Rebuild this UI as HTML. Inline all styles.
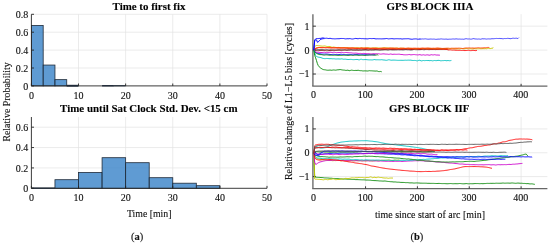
<!DOCTYPE html>
<html><head><meta charset="utf-8"><title>figure</title>
<style>html,body{margin:0;padding:0;background:#fff}svg{display:block}text{font-family:"Liberation Serif","DejaVu Serif",serif;fill:#111;stroke:#111;stroke-width:0.12px}.t{font-size:10px}.b{font-size:11px;font-weight:bold;fill:#000}.g{stroke:#e2e2e2;stroke-width:0.7;fill:none}.ax{stroke:#262626;stroke-width:0.9;fill:none}.ay{stroke:#777;stroke-width:1.5;fill:none}.bar{fill:#3782c8;fill-opacity:0.8;stroke:#1f2a38;stroke-width:0.8}.ln{fill:none;stroke-width:1;stroke-opacity:0.92;stroke-linejoin:round;stroke-linecap:round}</style></head><body>
<svg width="550" height="244" viewBox="0 0 550 244">
<rect width="550" height="244" fill="#fff"/>
<line class="g" x1="78.52" y1="14.3" x2="78.52" y2="85.9"/>
<line class="g" x1="125.64" y1="14.3" x2="125.64" y2="85.9"/>
<line class="g" x1="172.76" y1="14.3" x2="172.76" y2="85.9"/>
<line class="g" x1="219.88" y1="14.3" x2="219.88" y2="85.9"/>
<line class="g" x1="267" y1="14.3" x2="267" y2="85.9"/>
<line class="g" x1="31.4" y1="68" x2="267" y2="68"/>
<line class="g" x1="31.4" y1="50.1" x2="267" y2="50.1"/>
<line class="g" x1="31.4" y1="32.2" x2="267" y2="32.2"/>
<line class="g" x1="31.4" y1="14.3" x2="267" y2="14.3"/>
<rect class="bar" x="31.4" y="25.4" width="11.78" height="60.5"/>
<rect class="bar" x="43.18" y="65.05" width="11.78" height="20.85"/>
<rect class="bar" x="54.96" y="79.64" width="11.78" height="6.27"/>
<path class="ax" d="M31.4 14.3V85.9H267"/>
<line x1="66.74" y1="85.75" x2="78.52" y2="85.75" stroke="#1f2a38" stroke-width="1.9"/>
<line x1="102.08" y1="85.75" x2="113.86" y2="85.75" stroke="#1f2a38" stroke-width="1.4"/>
<line x1="113.86" y1="85.75" x2="125.64" y2="85.75" stroke="#1f2a38" stroke-width="1.1"/>
<path class="ax" d="M31.4 85.9h2.6M31.4 68h2.6M31.4 50.1h2.6M31.4 32.2h2.6M31.4 14.3h2.6M31.4 85.9v-2.4M78.52 85.9v-2.4M125.64 85.9v-2.4M172.76 85.9v-2.4M219.88 85.9v-2.4M267 85.9v-2.4"/>
<text class="t" x="28.2" y="89.5" text-anchor="end">0</text>
<text class="t" x="28.2" y="71.6" text-anchor="end">0.2</text>
<text class="t" x="28.2" y="53.7" text-anchor="end">0.4</text>
<text class="t" x="28.2" y="35.8" text-anchor="end">0.6</text>
<text class="t" x="28.2" y="17.9" text-anchor="end">0.8</text>
<text class="t" x="31.4" y="98.5" text-anchor="middle">0</text>
<text class="t" x="78.52" y="98.5" text-anchor="middle">10</text>
<text class="t" x="125.64" y="98.5" text-anchor="middle">20</text>
<text class="t" x="172.76" y="98.5" text-anchor="middle">30</text>
<text class="t" x="219.88" y="98.5" text-anchor="middle">40</text>
<text class="t" x="267" y="98.5" text-anchor="middle">50</text>
<line class="g" x1="78.52" y1="117" x2="78.52" y2="188.3"/>
<line class="g" x1="125.64" y1="117" x2="125.64" y2="188.3"/>
<line class="g" x1="172.76" y1="117" x2="172.76" y2="188.3"/>
<line class="g" x1="219.88" y1="117" x2="219.88" y2="188.3"/>
<line class="g" x1="267" y1="117" x2="267" y2="188.3"/>
<line class="g" x1="31.4" y1="167.93" x2="267" y2="167.93"/>
<line class="g" x1="31.4" y1="147.56" x2="267" y2="147.56"/>
<line class="g" x1="31.4" y1="127.19" x2="267" y2="127.19"/>
<rect class="bar" x="54.96" y="179.7" width="23.56" height="8.6"/>
<rect class="bar" x="78.52" y="172.5" width="23.56" height="15.8"/>
<rect class="bar" x="102.08" y="157.7" width="23.56" height="30.6"/>
<rect class="bar" x="125.64" y="162.7" width="23.56" height="25.6"/>
<rect class="bar" x="149.2" y="177.7" width="23.56" height="10.6"/>
<rect class="bar" x="172.76" y="183.2" width="23.56" height="5.1"/>
<rect class="bar" x="196.32" y="185.7" width="23.56" height="2.6"/>
<path class="ax" d="M31.4 117V188.3H267"/>
<line x1="31.4" y1="188.15" x2="54.96" y2="188.15" stroke="#1f2a38" stroke-width="1.4"/>
<path class="ax" d="M31.4 188.3h2.6M31.4 167.93h2.6M31.4 147.56h2.6M31.4 127.19h2.6M31.4 188.3v-2.4M78.52 188.3v-2.4M125.64 188.3v-2.4M172.76 188.3v-2.4M219.88 188.3v-2.4M267 188.3v-2.4"/>
<text class="t" x="28.2" y="191.9" text-anchor="end">0</text>
<text class="t" x="28.2" y="171.53" text-anchor="end">0.2</text>
<text class="t" x="28.2" y="151.16" text-anchor="end">0.4</text>
<text class="t" x="28.2" y="130.79" text-anchor="end">0.6</text>
<text class="t" x="31.4" y="200.9" text-anchor="middle">0</text>
<text class="t" x="78.52" y="200.9" text-anchor="middle">10</text>
<text class="t" x="125.64" y="200.9" text-anchor="middle">20</text>
<text class="t" x="172.76" y="200.9" text-anchor="middle">30</text>
<text class="t" x="219.88" y="200.9" text-anchor="middle">40</text>
<text class="t" x="267" y="200.9" text-anchor="middle">50</text>
<text class="b" x="149" y="9.7" text-anchor="middle" textLength="72.8" lengthAdjust="spacingAndGlyphs">Time to first fix</text>
<text class="b" x="148.8" y="112" text-anchor="middle" textLength="177.4" lengthAdjust="spacingAndGlyphs">Time until Sat Clock Std. Dev. &lt;15 cm</text>
<text class="t" transform="translate(9.6 102) rotate(-90)" text-anchor="middle" textLength="79.2" lengthAdjust="spacingAndGlyphs">Relative Probability</text>
<text class="t" x="149.2" y="217" text-anchor="middle" textLength="44.6" lengthAdjust="spacingAndGlyphs">Time [min]</text>
<text class="t" style="font-size:10.5px" x="137" y="239.6" text-anchor="middle">(<tspan font-weight="bold">a</tspan>)</text>
<line class="g" x1="365.55" y1="14.2" x2="365.55" y2="86"/>
<line class="g" x1="417.4" y1="14.2" x2="417.4" y2="86"/>
<line class="g" x1="469.25" y1="14.2" x2="469.25" y2="86"/>
<line class="g" x1="521.1" y1="14.2" x2="521.1" y2="86"/>
<line class="g" x1="312.9" y1="74.03" x2="547.4" y2="74.03"/>
<line class="g" x1="312.9" y1="50.1" x2="547.4" y2="50.1"/>
<line class="g" x1="312.9" y1="26.17" x2="547.4" y2="26.17"/>
<path class="ay" d="M312.9 14.2V86"/>
<path class="ay" style="stroke:#666;stroke-width:1.3" d="M312.2 86.2H547.4"/>
<path class="ax" d="M312.9 74.03h3M312.9 50.1h3M312.9 26.17h3M365.55 86v-2.2M417.4 86v-2.2M469.25 86v-2.2M521.1 86v-2.2"/>
<path class="ln" stroke="#505050" d="M313.8 49.8 314.7 49.73 315.6 49.42 316.5 49.32 317.4 49.46 318.3 49.55 319.2 49.57 320.1 49.66 321 49.65 321.9 49.54 322.8 49.52 323.7 49.64 324.6 49.79 325.5 49.76 326.4 49.6 327.3 49.63 328.2 49.87 329.1 49.98 330 49.84 330.9 49.79 331.8 49.87 332.7 49.88 333.6 49.96 334.5 50.05 335.4 49.98 336.3 49.93 337.2 49.9 338.1 49.83 339 49.8 339.9 49.81 340.8 49.82 341.7 49.83 342.6 49.84 343.5 49.87 344.4 49.91 345.3 49.95 346.2 50.03 347.1 50.01 348 49.92 348.9 49.98 349.8 49.93 350.7 49.82 351.6 49.89 352.5 50.02 353.4 50.02 354.3 49.93 355.2 49.95 356.1 49.92 357 49.77 357.9 49.82 358.8 50.02 359.7 50.14 360.6 50.16 361.5 50.12 362.4 50.07 363.3 50.09 364.2 50.08 365.1 49.97 366 49.96 366.9 49.95 367.8 49.93 368.7 50.01 369.6 49.98 370.5 50.05 371.4 50.16 372.3 49.99 373.2 49.97 374.1 50.06 375 49.93 375.9 49.91 376.8 50.03 377.7 50.07 378.6 50.06 379.5 50.09 380.4 50.15 381.3 50.14 382.2 50.02 383.1 49.87 384 49.74 384.9 49.75 385.8 49.81 386.7 49.82 387.6 50 388.5 50.07 389.4 49.85 390.3 49.75 391.2 49.84 392.1 49.89 393 49.82 393.9 49.78 394.8 49.78 395.7 49.86 396.6 49.9 397.5 49.8 398.4 49.79 399.3 49.88 400.2 49.84 401.1 49.77 402 49.85 402.9 49.91 403.8 49.87 404.7 49.73 405.6 49.56 406.5 49.64 407.4 49.78 408.3 49.76 409.2 49.79 410.1 49.98 411 49.99 411.9 49.88 412.8 49.76 413.7 49.47 414.6 49.4 415.5 49.62 416.4 49.68 417.3 49.7 418.2 49.69 419.1 49.66 420 49.67 420.9 49.56 421.8 49.45 422.7 49.53 423.6 49.68 424.5 49.68 425.4 49.52 426.3 49.46 427.2 49.47 428.1 49.55 429 49.66 429.9 49.57 430.8 49.45 431.7 49.49 432.6 49.48 433.5 49.36 434.4 49.42 435.3 49.58 436.2 49.54 437.1 49.39 438 49.31 438.9 49.24 439.8 49.22 440.7 49.35 441.6 49.39 442.5 49.26 443.4 49.12 444.3 49.15 445.2 49.27 446.1 49.26 447 49.21 447.9 49.27 448 49.36"/>
<path class="ln" stroke="#7a2020" d="M313.8 49.8 314.7 50.1 315.6 50.39 316.5 50.49 317.4 50.64 318.3 50.69 319.2 50.58 320.1 50.43 321 50.4 321.9 50.47 322.8 50.49 323.7 50.47 324.6 50.47 325.5 50.6 326.4 50.74 327.3 50.76 328.2 50.66 329.1 50.54 330 50.47 330.9 50.44 331.8 50.42 332.7 50.34 333.6 50.25 334.5 50.28 335.4 50.36 336.3 50.37 337.2 50.26 338.1 50.17 339 50.14 339.9 50.18 340.8 50.29 341.7 50.27 342.6 50.2 343.5 50.1 344.4 49.93 345.3 49.93 346.2 50.13 347.1 50.2 348 50.02 348.9 49.95 349.8 49.94 350.7 49.8 351.6 49.76 352.5 49.89 353.4 49.95 354.3 50.02 355.2 50.09 356.1 50.03 357 50.04 357.9 50.17 358.8 50.07 359.7 49.8 360.6 49.82 361.5 49.89 362.4 49.73 363.3 49.62 364.2 49.59 365.1 49.56 366 49.63 366.9 49.81 367.8 49.98 368.7 49.97 369.6 49.73 370.5 49.55 371.4 49.61 372.3 49.7 373.2 49.72 374.1 49.62 375 49.53 375.9 49.53 376.8 49.45 377.7 49.51 378.6 49.66 379.5 49.76 380.4 49.68 381.3 49.48 382.2 49.56 383.1 49.66 384 49.62 384.9 49.57 385.8 49.53 386.7 49.6 387.6 49.59 388.5 49.44 389.4 49.41 390.3 49.44 391.2 49.49 392.1 49.58 393 49.63 393.9 49.68 394.8 49.66 395.7 49.52 396.6 49.4 397.5 49.31 398.4 49.28 399.3 49.33 400.2 49.38 401.1 49.35 402 49.38 402.9 49.39 403.8 49.34 404.7 49.4 405.6 49.57 406.5 49.54 407.4 49.34 408.3 49.26 409.2 49.27 410.1 49.35 411 49.48 411.9 49.5 412.8 49.53 413.7 49.49 414.6 49.3 415.5 49.22 416.4 49.29 417.3 49.33 418.2 49.29 419.1 49.33 420 49.4 420.9 49.38 421.8 49.24 422.7 49.04 423.6 49.02 424.5 49.2 425.4 49.18 426.3 49.02 427.2 48.99 428.1 48.94 429 48.91 429.9 48.97 430.8 48.97 431.7 49.01 432.6 49.08 433.5 49.06 434.4 49.06 435.3 49.05 436.2 49 437.1 49.05 438 49.11 438.9 49.08 439.8 49.02 440.7 48.93 441.6 48.92 442.5 48.89 443.4 48.67 444.3 48.63 445.2 48.8 446.1 48.73 447 48.61"/>
<path class="ln" stroke="#0000ff" d="M313.8 49.8 314.7 51.66 315.6 52.49 316.5 52.93 317.4 53.25 318.3 53.51 319.2 53.64 320.1 53.79 321 54.01 321.9 54.11 322.8 54.08 323.7 54.08 324.6 54.07 325.5 54.02 326.4 54.08 327.3 54.14 328.2 54.21 329.1 54.33 330 54.45 330.9 54.63 331.8 54.56 332.7 54.35 333.6 54.34 334.5 54.42 335.4 54.51 336.3 54.6 337.2 54.63 338.1 54.65 339 54.62 339.9 54.45 340.8 54.26 341.7 54.31 342.6 54.44 343.5 54.47 344.4 54.58 345.3 54.73 346.2 54.77 347.1 54.75 348 54.77 348.9 54.76 349.8 54.67 350.7 54.63 351.6 54.62 352.5 54.76 353.4 54.81 354.3 54.6 355.2 54.58 356.1 54.71 357 54.67 357.9 54.66 358.8 54.8 359.7 54.88 360.6 54.9 361.5 54.8 362.4 54.65 363.3 54.74 364.2 54.82 365.1 54.69 366 54.7 366.9 54.87 367.8 54.96 368.7 54.85 369.6 54.79 370.5 54.92 371.4 54.88 372.3 54.79 373.2 54.79 374.1 54.73 375 54.65"/>
<path class="ln" stroke="#0a8a0a" d="M313.8 49.8 314.7 52.13 315.6 52.78 316.5 53.24 317.4 53.85 318.3 54.26 319.2 54.5 320.1 54.63 321 54.61 321.9 54.7 322.8 54.91 323.7 55.07 324.6 55.08 325.5 54.93 326.4 54.9 327.3 54.96 328.2 55.05 329.1 55.2 330 55.2 330.9 55.11 331.8 55.18 332.7 55.34 333.6 55.31 334.5 55.23 335.4 55.27 336.3 55.29 337.2 55.36 338.1 55.39 339 55.32 339.9 55.32 340.8 55.39 341.7 55.43 342.6 55.38 343.5 55.27 344.4 55.23 345.3 55.23 346.2 55.23 347.1 55.3 348 55.35 348.9 55.32 349.8 55.23 350.7 55.15 351.6 55.22 352.5 55.35 353.4 55.32 354.3 55.18 355.2 55.11 356.1 55.04 357 55.03 357.9 55.25 358.8 55.34 359.7 55.22 360.6 55.11 361.5 55.15 362.4 55.29 363.3 55.31 364.2 55.37 365.1 55.44 366 55.29 366.9 55.04 367.8 54.99 368.7 55.01 369.6 54.95 370.5 54.83 371.4 54.82 372.3 54.94 373.2 55.05 374.1 55.1 375 55.13 375.9 55.08 376.8 54.86 377.7 54.8 378 54.97"/>
<path class="ln" stroke="#cc00cc" d="M313.8 49.8 314.7 50.8 315.6 51.63 316.5 52.09 317.4 52.27 318.3 52.28 319.2 52.35 320.1 52.43 321 52.49 321.9 52.52 322.8 52.45 323.7 52.32 324.6 52.24 325.5 52.5 326.4 52.69 327.3 52.61 328.2 52.48 329.1 52.3 330 52.23 330.9 52.27 331.8 52.44 332.7 52.46 333.6 52.28 334.5 52.25 335.4 52.5 336.3 52.73 337.2 52.62 338.1 52.52 339 52.56 339.9 52.54 340.8 52.42 341.7 52.31 342.6 52.48 343.5 52.73 344.4 52.7 345.3 52.51 346.2 52.47 347.1 52.6 348 52.69 348.9 52.75 349.8 52.85 350.7 52.83 351.6 52.9 352.5 53.06 353.4 53.14 354.3 53.18 355.2 53.11 356.1 53.11 357 53.24 357.9 53.37 358.8 53.47 359.7 53.45 360.6 53.43 361.5 53.52 362.4 53.5 363.3 53.4 364.2 53.43 365.1 53.59 366 53.69 366.9 53.7 367.8 53.68 368.7 53.59 369.6 53.69 370.5 53.84 371.4 53.86 372.3 53.78 373.2 53.63 374.1 53.72 375 53.86 375.9 53.78 376.8 53.75 377.7 53.77 378.6 53.76 379.5 53.95 380.4 54.13 381.3 54.12 382.2 53.98 383.1 53.86 384 53.9 384.9 54.03 385.8 54.13 386.7 54.14 387.6 54.2 388.5 54.33 389.4 54.26 390.3 54.02 391.2 54.09 392.1 54.33 393 54.34 393.9 54.23 394.8 54.22 395.7 54.29 396.6 54.31 397.5 54.25 398.4 54.19 399.3 54.19 400.2 54.38 401.1 54.51 402 54.47 402.9 54.64 403.8 54.79 404.7 54.79 405.6 54.82 406.5 54.77 407.4 54.76 408.3 54.61 409.2 54.48 410.1 54.71 411 54.86 411.9 54.74 412.8 54.65 413.7 54.56 414.6 54.58 415.5 54.73 416.4 54.79 417.3 54.9 418.2 54.9 419.1 54.69 420 54.66 420.9 54.93 421.8 55.1 422.7 54.92 423.6 54.81 424.5 55.02 425.4 55.13 426.3 54.93 427.2 54.84 428.1 54.95 429 55.15 429.9 55.17 430.8 54.83 431.7 54.69 432.6 54.92 433.5 54.91 434.4 54.71 435.3 54.84 436.2 55.04 437.1 55.03 438 55.05 438.9 55.11 439.5 55.15"/>
<path class="ln" stroke="#00c0c0" d="M313.8 49.8 314.7 52.88 315.6 55.5 316.5 56.37 317.4 56.81 318.3 57.14 319.2 57.27 320.1 57.45 321 57.65 321.9 57.97 322.8 58.35 323.7 58.53 324.6 58.61 325.5 58.59 326.4 58.47 327.3 58.47 328.2 58.55 329.1 58.65 330 58.69 330.9 58.63 331.8 58.71 332.7 58.81 333.6 58.78 334.5 58.82 335.4 58.96 336.3 59 337.2 58.95 338.1 58.92 339 58.96 339.9 59.05 340.8 58.97 341.7 58.85 342.6 59.01 343.5 59.22 344.4 59.19 345.3 59.15 346.2 59.3 347.1 59.41 348 59.49 348.9 59.51 349.8 59.42 350.7 59.39 351.6 59.44 352.5 59.58 353.4 59.67 354.3 59.63 355.2 59.55 356.1 59.48 357 59.47 357.9 59.56 358.8 59.83 359.7 59.77 360.6 59.31 361.5 59.26 362.4 59.58 363.3 59.66 364.2 59.61 365.1 59.56 366 59.59 366.9 59.68 367.8 59.75 368.7 59.85 369.6 59.89 370.5 59.87 371.4 59.92 372.3 59.93 373.2 59.79 374.1 59.56 375 59.6 375.9 59.82 376.8 59.77 377.7 59.76 378.6 59.79 379.5 59.8 380.4 59.81 381.3 59.7 382.2 59.78 383.1 59.96 384 59.99 384.9 60.08 385.8 60.24 386.7 60.29 387.6 60.07 388.5 59.8 389.4 59.83 390.3 60.05 391.2 60.23 392.1 60.18 393 60.09 393.9 60.12 394.8 60.14 395.7 60.2 396.6 60.28 397.5 60.34 398.4 60.35 399.3 60.34 400.2 60.31 401.1 60.3 402 60.3 402.9 60.33 403.8 60.32 404.7 60.24 405.6 60.21 406.5 60.27 407.4 60.21 408.3 60.15 409.2 60.21 410.1 60.12 411 60.18 411.9 60.38 412.8 60.49 413.7 60.49 414.6 60.44 415.5 60.51 416.4 60.73 417.3 60.85 418.2 60.54 419.1 60.22 420 60.34 420.9 60.75 421.8 60.92 422.7 60.62 423.6 60.49 424.5 60.63 425.4 60.56 426.3 60.49 427.2 60.55 428.1 60.48 429 60.58 429.9 60.7 430.8 60.53 431.7 60.63 432.6 60.83 433.5 60.67 434.4 60.49 435.3 60.59 436.2 60.66 437.1 60.51 438 60.42 438.9 60.4 439.8 60.54 440.7 60.78 441.6 60.73 442.5 60.64 443.4 60.64 444.3 60.5 445.2 60.49 446.1 60.71 447 60.69 447.9 60.52 448.8 60.62 449.7 60.72 450.6 60.6 451 60.53"/>
<path class="ln" stroke="#0a8a0a" d="M313.8 49.8 314.7 55.41 315.6 57.79 316.5 60.61 317.4 63.66 318.3 65.61 319.2 66.81 320.1 67.66 321 68.28 321.9 68.85 322.8 69.36 323.7 69.67 324.6 69.76 325.5 69.86 326.4 70.09 327.3 70.21 328.2 70.23 329.1 70.17 330 70.04 330.9 70.17 331.8 70.27 332.7 70.08 333.6 69.97 334.5 70.06 335.4 70.18 336.3 70.07 337.2 69.87 338.1 69.82 339 69.73 339.9 69.58 340.8 69.62 341.7 69.83 342.6 69.99 343.5 70.09 344.4 70.14 345.3 70.33 346.2 70.43 347.1 70.21 348 70.19 348.9 70.54 349.8 70.67 350.7 70.36 351.6 70.18 352.5 70.31 353.4 70.46 354.3 70.5 355.2 70.43 356.1 70.44 357 70.43 357.9 70.3 358.8 70.37 359.7 70.62 360.6 70.69 361.5 70.7 362.4 70.88 363.3 70.94 364.2 70.89 365.1 70.89 366 70.91 366.9 70.98 367.8 71 368.7 70.83 369.6 70.68 370.5 70.77 371.4 70.81 372.3 70.87 373.2 70.95 374.1 70.96 375 71.08 375.9 71.06 376.8 70.97 377.7 71.19 378.6 71.57 379.5 71.59 380.4 71.46 381.3 71.6 381.5 71.76"/>
<path class="ln" stroke="#c8c800" d="M313.8 49.8 314.7 46.79 315.6 45.69 316.5 45.49 317.4 45.51 318.3 45.69 319.2 45.76 320.1 45.88 321 46.03 321.9 46.09 322.8 46.17 323.7 46.06 324.6 45.96 325.5 46.12 326.4 46.35 327.3 46.5 328.2 46.5 329.1 46.44 330 46.56 330.9 46.87 331.8 47.21 332.7 47.25 333.6 47.07 334.5 47.19 335.4 47.39 336.3 47.48 337.2 47.52 338.1 47.42 339 47.48 339.9 47.75 340.8 47.82 341.7 47.71 342.6 47.67 343.5 47.59 344.4 47.62 345.3 47.77 346.2 47.72 347.1 47.63 348 47.82 348.9 48.07 349.8 48.06 350.7 47.97 351.6 48 352.5 48.09 353.4 48 354.3 47.82 355.2 47.81 356.1 47.89 357 47.96 357.9 47.87 358.8 47.82 359.7 48.04 360.6 48.01 361.5 47.9 362.4 48.07 363.3 48.15 364.2 48.11 365.1 48.1 366 48.05 366.9 47.91 367.8 47.8 368.7 47.91 369.6 48.07 370.5 48.15 371.4 48.17 372.3 47.99 373.2 47.87 374.1 48.02 375 47.98 375.9 47.89 376.8 47.92 377.7 47.97 378.6 48.04 379.5 48.17 380.4 48.31 381.3 48.21 382.2 48.04 383.1 47.92 384 47.81 384.9 47.89 385.8 48.01 386.7 47.96 387.6 47.9 388.5 48.14 389.4 48.34 390.3 48.23 391.2 48.21 392.1 48.22 393 48.13 393.9 48.19 394.8 48.34 395.7 48.26 396.6 48.01 397.5 48.11 398.4 48.47 399.3 48.38 400.2 48.13 401.1 48.26 402 48.41 402.9 48.26 403.8 48.22 404.7 48.48 405.6 48.52 406.5 48.41 407.4 48.43 408.3 48.38 409.2 48.39 410.1 48.37 411 48.29 411.9 48.45 412.8 48.6 413.7 48.63 414.6 48.72 415.5 48.81 416.4 48.82 417.3 48.68 418.2 48.57 419.1 48.56 420 48.47 420.9 48.44 421.8 48.59 422.7 48.72 423.6 48.63 424.5 48.45 425.4 48.6 426.3 48.75 427.2 48.78 428.1 48.79 429 48.67 429.9 48.64 430.8 48.66 431.7 48.61 432.6 48.58 433.5 48.68 434.4 48.8 435.3 48.81 436.2 48.74 437.1 48.77 438 48.86 438.9 48.78 439.8 48.77 440.7 48.84 441.6 48.84 442.5 48.88 443.4 48.97 444.3 49.05 445.2 49 446.1 48.84 447 48.76 447.9 48.88 448.8 48.99 449.7 48.86 450.6 48.69 451.5 48.67 452.4 48.75 453.3 48.71 454.2 48.76 455.1 48.95 456 48.92 456.9 48.79 457.8 48.76 458.7 48.89 459.6 48.98 460.5 48.78 461.4 48.62 462.3 48.62 463.2 48.77 464.1 48.92 465 48.79 465.9 48.6 466.8 48.54 467.7 48.67 468.6 48.78 469.5 48.73 470.4 48.78 471.3 48.91 472.2 48.91 473.1 48.78 474 48.61 474.9 48.68 475.8 48.82 476.7 48.75 477.6 48.76 478.5 48.74 479.4 48.71 480.3 48.75 481.2 48.75 482.1 48.72 483 48.63 483.9 48.69 484.8 48.71 485.7 48.63 486.6 48.75 487.5 48.56 488.4 48.29 489.3 48.53 490.2 48.64 491.1 48.37 492 48.24 492.9 48.13 493 47.88"/>
<path class="ln" stroke="#ff0a0a" d="M313.8 49.8 314.7 48.85 315.6 48.44 316.5 48.3 317.4 48.09 318.3 47.67 319.2 47.47 320.1 47.6 321 47.74 321.9 47.73 322.8 47.61 323.7 47.56 324.6 47.7 325.5 47.81 326.4 47.72 327.3 47.72 328.2 47.83 329.1 47.78 330 47.78 330.9 47.92 331.8 47.9 332.7 47.81 333.6 47.86 334.5 47.94 335.4 47.93 336.3 47.97 337.2 48.07 338.1 48 339 47.85 339.9 47.88 340.8 47.98 341.7 48.07 342.6 48.18 343.5 48.2 344.4 48.08 345.3 48.04 346.2 48.11 347.1 48.22 348 48.34 348.9 48.34 349.8 48.32 350.7 48.35 351.6 48.29 352.5 48.28 353.4 48.36 354.3 48.48 355.2 48.57 356.1 48.58 357 48.54 357.9 48.5 358.8 48.51 359.7 48.56 360.6 48.59 361.5 48.54 362.4 48.54 363.3 48.62 364.2 48.63 365.1 48.56 366 48.53 366.9 48.49 367.8 48.53 368.7 48.68 369.6 48.66 370.5 48.51 371.4 48.54 372.3 48.64 373.2 48.6 374.1 48.61 375 48.72 375.9 48.68 376.8 48.66 377.7 48.69 378.6 48.66 379.5 48.68 380.4 48.75 381.3 48.75 382.2 48.73 383.1 48.79 384 48.87 384.9 48.89 385.8 48.8 386.7 48.68 387.6 48.63 388.5 48.63 389.4 48.69 390.3 48.78 391.2 48.82 392.1 48.76 393 48.73 393.9 48.79 394.8 48.78 395.7 48.83 396.6 48.95 397.5 48.9 398.4 48.76 399.3 48.79 400.2 48.92 401.1 48.94 402 48.91 402.9 48.8 403.8 48.65 404.7 48.63 405.6 48.65 406.5 48.68 407.4 48.77 408.3 48.89 409.2 48.96 410.1 48.95 411 48.87 411.9 48.87 412.8 48.94 413.7 48.85 414.6 48.72 415.5 48.8 416.4 48.86 417.3 48.82 418.2 48.92 419.1 49.01 420 48.93 420.9 48.88 421.8 48.87 422.7 48.82 423.6 48.81 424.5 48.83 425.4 48.85 426.3 48.92 427.2 49.01 428.1 49.05 429 49.01 429.9 48.94 430.8 49 431.7 49.12 432.6 49.11 433.5 49.05 434.4 49.07 435.3 49.11 436.2 49.09 437.1 49.13 438 49.16 438.9 49.05 439.8 49.01 440.7 49.15 441.6 49.19 442.5 49.19 443.4 49.36 444.3 49.45 445.2 49.41 446.1 49.4 447 49.54 447.9 49.8 448.8 49.92 449.7 49.88 450.6 49.85 451.5 49.98 452.4 50.1 453.3 50.06 454.2 50.05 455.1 50.18 456 50.25 456.9 50.21 457.8 50.28 458.7 50.35 459.6 50.35 460.5 50.38 461.4 50.47 462.3 50.42 463.2 50.39 464.1 50.53 465 50.57 465.9 50.51 466.8 50.46 467.7 50.37 468.6 50.3 469.5 50.44 470.4 50.61 471.3 50.6 472.2 50.44 473.1 50.31 474 50.38 474.9 50.56 475.8 50.61 476.5 50.44"/>
<path class="ln" stroke="#ff3c00" d="M313.8 49.8 314.7 48.65 315.6 48.27 316.5 47.87 317.4 47.59 318.3 47.61 319.2 47.66 320.1 47.59 321 47.51 321.9 47.57 322.8 47.69 323.7 47.65 324.6 47.56 325.5 47.6 326.4 47.62 327.3 47.51 328.2 47.53 329.1 47.65 330 47.69 330.9 47.74 331.8 47.79 332.7 47.79 333.6 47.71 334.5 47.68 335.4 47.64 336.3 47.63 337.2 47.72 338.1 47.75 339 47.85 339.9 47.95 340.8 47.91 341.7 47.8 342.6 47.66 343.5 47.62 344.4 47.76 345.3 47.9 346.2 47.96 347.1 47.93 348 47.9 348.9 47.9 349.8 47.91 350.7 47.9 351.6 47.83 352.5 47.76 353.4 47.82 354.3 47.99 355.2 48.1 356.1 48.03 357 47.99 357.9 48.12 358.8 48.17 359.7 48.12 360.6 47.9 361.5 47.73 362.4 47.84 363.3 47.98 364.2 48 365.1 47.94 366 47.9 366.9 47.96 367.8 48.02 368.7 48.09 369.6 48.21 370.5 48.27 371.4 48.21 372.3 48.14 373.2 48.17 374.1 48.17 375 48.14 375.9 48.19 376.8 48.23 377.7 48.33 378.6 48.44 379.5 48.32 380.4 48.17 381.3 48.19 382.2 48.15 383.1 48.09 384 48.07 384.9 48.06 385.8 48.1 386.7 48.16 387.6 48.24 388.5 48.13 389.4 47.93 390.3 47.94 391.2 48.02 392.1 48.05 393 48.1 393.9 48.16 394.8 48.13 395.7 48.1 396.6 48.21 397.5 48.27 398.4 48.27 399.3 48.3 400.2 48.24 401.1 48.14 402 48.13 402.9 48.19 403.8 48.24 404.7 48.26 405.6 48.32 406.5 48.28 407.4 48.11 408.3 48.05 409.2 48.16 410.1 48.26 411 48.31 411.9 48.31 412.8 48.23 413.7 48.16 414.6 48.16 415.5 48.18 416.4 48.24 417.3 48.26 418.2 48.17 419.1 48.25 420 48.36 420.9 48.22 421.8 48.08 422.7 48.03 423.6 48.08 424.5 48.19 425.4 48.16 426.3 48.09 427.2 48 428.1 47.97 429 48.12 429.9 48.18 430.8 48.23 431.7 48.3 432.6 48.25 433.5 48.21 434.4 48.27 435.3 48.25 436.2 48.12 437.1 48.01 438 48 438.9 48.14 439.8 48.23 440.7 48.27 441.6 48.38 442.5 48.44 443.4 48.41 444.3 48.37 445.2 48.33 446.1 48.25 447 48.22 447.9 48.21 448.8 48.24 449.7 48.38 450.6 48.35 451.5 48.23 452.4 48.24 453.3 48.25 454.2 48.25 455.1 48.24 456 48.2 456.9 48.22 457.8 48.22 458.7 48.15 459.6 48.18 460.5 48.26 461.4 48.34 462.3 48.48 463.2 48.44 464.1 48.23 465 48.1 465.9 47.99 466.8 47.99 467.7 48.01 468.6 47.94 469.5 47.92 470.4 48.04 471.3 48.07 472.2 48 473.1 48.04 474 48.15 474.9 48.11 475.8 48 476.7 47.96 477.6 47.82 478.5 47.75 479.4 47.88 480.3 47.99 481.2 47.96 482.1 47.94 483 47.94 483.9 47.81 484.8 47.76 485.7 47.79 486.6 47.66 487.5 47.46 488.4 47.43 489 47.55"/>
<path class="ln" stroke="#0000ff" d="M313.8 49.8 314.7 40.85 315.6 39.76 316.5 39.8 317.4 42.29 318.3 41.9 319.2 40.81 320.1 39.87 321 39.21 321.9 38.94 322.8 38.74 323.7 38.63 324 38.64"/>
<path class="ln" stroke="#0000ff" d="M313.8 49.8 314.7 39.99 315.6 38.9 316.5 38.49 317.4 38.58 318.3 38.57 319.2 38.44 320.1 38.42 321 38.32 321.9 38.05 322.8 37.91 323.7 38.03 324.6 38.26 325.5 38.32 326.4 38.21 327.3 38.33 328.2 38.54 329.1 38.45 330 38.32 330.9 38.45 331.8 38.69 332.7 38.76 333.6 38.77 334.5 38.83 335.4 38.83 336.3 38.78 337.2 38.73 338.1 38.73 339 38.74 339.9 38.63 340.8 38.49 341.7 38.48 342.6 38.51 343.5 38.51 344.4 38.67 345.3 38.87 346.2 38.83 347.1 38.71 348 38.75 348.9 38.74 349.8 38.6 350.7 38.71 351.6 38.95 352.5 38.99 353.4 38.88 354.3 38.67 355.2 38.44 356.1 38.48 357 38.64 357.9 38.73 358.8 38.61 359.7 38.41 360.6 38.5 361.5 38.64 362.4 38.6 363.3 38.64 364.2 38.75 365.1 38.76 366 38.77 366.9 38.85 367.8 38.85 368.7 38.68 369.6 38.53 370.5 38.54 371.4 38.62 372.3 38.6 373.2 38.5 374.1 38.54 375 38.73 375.9 38.89 376.8 38.85 377.7 38.79 378.6 38.83 379.5 38.82 380.4 38.83 381.3 38.89 382.2 38.85 383.1 38.82 384 38.8 384.9 38.73 385.8 38.61 386.7 38.5 387.6 38.68 388.5 38.89 389.4 38.81 390.3 38.72 391.2 38.66 392.1 38.66 393 38.77 393.9 38.86 394.8 38.85 395.7 38.74 396.6 38.72 397.5 38.72 398.4 38.77 399.3 38.84 400.2 38.74 401.1 38.83 402 39.05 402.9 38.94 403.8 38.82 404.7 38.81 405.6 38.77 406.5 38.76 407.4 38.72 408.3 38.71 409.2 38.86 410.1 39.04 411 39.14 411.9 39.24 412.8 39.17 413.7 38.97 414.6 38.93 415.5 38.89 416.4 38.93 417.3 39.15 418.2 39.21 419.1 39.1 420 39.07"/>
<path class="ln" stroke="#3a3aff" d="M420 39 420.9 39.09 421.8 39.02 422.7 38.95 423.6 39 424.5 38.91 425.4 38.83 426.3 38.97 427.2 39.13 428.1 39.2 429 39.18 429.9 39.08 430.8 39.03 431.7 39.09 432.6 39.15 433.5 39.08 434.4 39.11 435.3 39.3 436.2 39.33 437.1 39.23 438 39.13 438.9 39.12 439.8 39.11 440.7 38.95 441.6 38.93 442.5 39.07 443.4 39.13 444.3 39.19 445.2 39.15 446.1 39.06 447 39.21 447.9 39.3 448.8 39.21 449.7 39.16 450.6 39.18 451.5 39.14 452.4 39.01 453.3 38.96 454.2 39.08 455.1 39.02 456 38.85 456.9 38.93 457.8 39.08 458.7 39.12 459.6 39.05 460.5 39.13 461.4 39.18 462.3 39.14 463.2 39.25 464.1 39.18 465 38.93 465.9 38.72 466.8 38.76 467.7 38.99 468.6 38.97 469.5 38.95 470.4 39.13 471.3 39.14 472.2 38.94 473.1 38.66 474 38.67 474.9 38.94 475.8 38.98 476.7 39.02 477.6 39.12 478.5 39 479.4 39.06 480.3 39.23 481.2 39.07 482.1 38.79 483 38.8 483.9 38.88 484.8 38.82 485.7 38.96 486.6 39.07 487.5 38.95 488.4 38.9 489.3 38.93 490.2 38.97 491.1 38.83 492 38.69 492.9 38.73 493.8 38.71 494.7 38.6 495.6 38.53 496.5 38.43 497.4 38.5 498.3 38.54 499.2 38.44 500.1 38.52 501 38.57 501.9 38.59 502.8 38.75 503.7 38.69 504.6 38.51 505.5 38.56 506.4 38.53 507.3 38.36 508.2 38.38 509.1 38.47 510 38.61 510.9 38.68 511.8 38.44 512.7 38.24 513.6 38.22 514.5 38.36 515.4 38.29 516.3 38.16 517.2 38.46 518.1 38.44 518.6 37.89"/>
<text class="t" x="309.6" y="77.43" text-anchor="end">−1</text>
<text class="t" x="309.6" y="53.5" text-anchor="end">0</text>
<text class="t" x="309.6" y="29.57" text-anchor="end">1</text>
<text class="t" x="313.4" y="98.3" text-anchor="middle">0</text>
<text class="t" x="365.25" y="98.3" text-anchor="middle">100</text>
<text class="t" x="417.1" y="98.3" text-anchor="middle">200</text>
<text class="t" x="468.95" y="98.3" text-anchor="middle">300</text>
<text class="t" x="520.8" y="98.3" text-anchor="middle">400</text>
<line class="g" x1="365.55" y1="117" x2="365.55" y2="188.5"/>
<line class="g" x1="417.4" y1="117" x2="417.4" y2="188.5"/>
<line class="g" x1="469.25" y1="117" x2="469.25" y2="188.5"/>
<line class="g" x1="521.1" y1="117" x2="521.1" y2="188.5"/>
<line class="g" x1="312.9" y1="176.58" x2="547.4" y2="176.58"/>
<line class="g" x1="312.9" y1="152.75" x2="547.4" y2="152.75"/>
<line class="g" x1="312.9" y1="128.92" x2="547.4" y2="128.92"/>
<path class="ay" d="M312.9 117V188.5"/>
<path class="ay" style="stroke:#666;stroke-width:1.3" d="M312.2 188.7H547.4"/>
<path class="ax" d="M312.9 176.58h3M312.9 152.75h3M312.9 128.92h3M365.55 188.5v-2.2M417.4 188.5v-2.2M469.25 188.5v-2.2M521.1 188.5v-2.2"/>
<path class="ln" stroke="#0a8a0a" d="M313.8 153 314.7 176.86 315.6 177.13 316.5 177.25 317.4 177.3 318.3 177.36 319.2 177.39 320.1 177.48 321 177.56 321.9 177.57 322.8 177.6 323.7 177.76 324.6 177.9 325.5 177.91 326.4 177.95 327.3 178.01 328.2 178.05 329.1 178.15 330 178.24 330.9 178.21 331.8 178.25 332.7 178.41 333.6 178.47 334.5 178.48 335.4 178.51 336.3 178.5 337.2 178.53 338.1 178.64 339 178.77 339.9 178.89 340.8 178.94 341.7 178.94 342.6 179.01 343.5 179.05 344.4 179.03 345.3 179.04 346.2 179.08 347.1 179.14 348 179.18 348.9 179.2 349.8 179.25 350.7 179.33 351.6 179.4 352.5 179.45 353.4 179.46 354.3 179.5 355.2 179.59 356.1 179.61 357 179.6 357.9 179.65 358.8 179.67 359.7 179.71 360.6 179.75 361.5 179.81 362.4 179.83 363.3 179.83 364.2 179.89 365.1 179.93 366 180.04 366.9 180.08 367.8 180.05 368.7 180.12 369.6 180.17 370.5 180.22 371.4 180.38 372.3 180.48 373.2 180.53 374.1 180.59 375 180.59 375.9 180.63 376.8 180.71 377.7 180.74 378.6 180.84 379.5 180.94 380.4 180.96 381.3 181 382.2 181.07 383.1 181.11 384 181.03 384.9 180.99 385.8 181.12 386.7 181.28 387.6 181.42 388.5 181.49 389.4 181.56 390.3 181.68 391.2 181.72 392.1 181.76 393 181.91 393.9 181.98 394.8 181.94 395.7 181.98 396.6 182.12 397.5 182.2 398.4 182.2 399.3 182.24 400.2 182.37 401.1 182.41 402 182.42 402.9 182.46 403.8 182.46 404.7 182.53 405.6 182.63 406.5 182.64 407.4 182.62 408.3 182.69 409.2 182.83 410.1 182.89 411 182.88 411.9 182.87 412.8 182.95 413.7 183.05 414.6 183.05 415.5 182.98 416.4 182.93 417.3 182.95 418.2 182.99 419.1 183.03 420 183.11 420.9 183.16 421.8 183.16 422.7 183.2 423.6 183.2 424.5 183.2 425.4 183.21 426.3 183.23 427.2 183.32 428.1 183.32 429 183.31 429.9 183.37 430.8 183.38 431.7 183.39 432.6 183.38 433.5 183.38 434.4 183.44 435.3 183.47 436.2 183.51 437.1 183.52 438 183.44 438.9 183.42 439.8 183.46 440.7 183.51 441.6 183.57 442.5 183.6 443.4 183.59 444.3 183.58 445.2 183.64 446.1 183.69 447 183.74 447.9 183.74 448.8 183.65 449.7 183.58 450.6 183.54 451.5 183.58 452.4 183.7 453.3 183.73 454.2 183.68 455.1 183.68 456 183.7 456.9 183.71 457.8 183.69 458.7 183.6 459.6 183.5 460.5 183.55 461.4 183.67 462.3 183.76 463.2 183.81 464.1 183.79 465 183.72 465.9 183.62 466.8 183.59 467.7 183.72 468.6 183.81 469.5 183.76 470.4 183.7 471.3 183.72 472.2 183.74 473.1 183.72 474 183.65 474.9 183.56 475.8 183.54 476.7 183.57 477.6 183.56 478.5 183.58 479.4 183.67 480.3 183.65 481.2 183.58 482.1 183.65 483 183.7 483.9 183.61 484.8 183.56 485.7 183.52 486.6 183.41 487.5 183.37 488.4 183.4 489.3 183.4 490.2 183.34 491.1 183.35 492 183.35 492.9 183.31 493.8 183.34 494.7 183.36 495.6 183.26 496.5 183.21 497.4 183.24 498.3 183.25 499.2 183.25 500.1 183.24 501 183.21 501.9 183.16 502.8 183.04 503.7 183.07 504.6 183.19 505.5 183.16 506.4 183.11 507.3 183.08 508.2 183.08 509.1 183.14 510 183.18 510.9 183.09 511.8 182.97 512.7 182.99 513.6 183.1 514.5 183.21 515.4 183.31 516.3 183.26 517.2 183.12 518.1 183.09 519 183.13 519.9 183.24 520.8 183.27 521.7 183.26 522.6 183.37 523.5 183.46 524.4 183.44 525.3 183.51 526.2 183.63 527.1 183.61 528 183.6 528.9 183.74 529.8 183.89 530.7 183.9 531.6 183.85 532.5 183.93 533.4 184.12 534.3 184.28 534.5 184.32"/>
<path class="ln" stroke="#c8c800" d="M313.8 153 314.7 178.95 315.6 179.3 316.5 179.18 317.4 179.27 318.3 179.36 319.2 179.32 320.1 179.47 321 179.56 321.9 179.54 322.8 179.75 323.7 179.81 324.6 179.56 325.5 179.43 326.4 179.51 327.3 179.73 328.2 179.71 329.1 179.38 330 179.26 330.9 179.35 331.8 179.2 332.7 178.91 333.6 178.9 334.5 179.25 335.4 179.61 336.3 179.63 337.2 179.52 338.1 179.48 339 179.5 339.9 179.3 340.8 178.97 341.7 179.01 342.6 179.11 343.5 179.05 344.4 178.72 345.3 178.39 346.2 178.42 347.1 178.53 348 178.6 348.9 178.48 349.8 178.33 350.7 178.13 351.6 177.87 352.5 177.83 353.4 177.91 354.3 177.98 355.2 177.78 356.1 177.68 357 177.84 357.9 177.66 358.8 177.43 359.7 177.48 360.6 177.56 361.5 177.5 362.4 177.48 363.3 177.66 364.2 177.8 365.1 177.86 366 177.63 366.9 177.44 367.8 177.53 368.7 177.5 369.6 177.21 370.5 176.89 371.4 177.1 372.3 177.64 373.2 177.56 374.1 177.22 375 177.33 375.9 177.61 376.8 177.59 377.7 177.24 378.6 177.16 379.5 177.43 380.4 177.51 381.3 177.48 382.2 177.68 383.1 177.89 384 177.91 384.9 178.05 385.8 178.06 386.7 177.96 387.6 178.18 388.5 178.31 389.4 178.14 390.3 178.05 391.2 178.05 392.1 177.98 392.6 178.07"/>
<path class="ln" stroke="#c8c800" d="M313.8 153 314.7 156.21 315.6 157.27 316.5 158.17 317.4 158.66 318.3 159.01 319.2 159.31 320.1 159.45 321 159.54 321.9 159.57 322.8 159.68 323.7 159.92 324.6 160.05 325.5 160.09 326.4 160.21 327.3 160.36 328.2 160.37 329.1 160.43 330 160.48 330.9 160.45 331.8 160.59 332.7 160.73 333.6 160.64 334.5 160.56 335.4 160.65 336.3 160.59 337.2 160.4 338.1 160.34 339 160.39 339.9 160.65 340.8 160.9 341.7 160.78 342.6 160.48 343.5 160.41 344.4 160.55 345.3 160.69 346.2 160.75 347.1 160.78 348 160.8 348.9 160.79 349.8 160.73 350.7 160.56 351.6 160.56 352.5 160.77 353.4 160.92 354.3 160.84 355.2 160.59 356.1 160.53 357 160.68 357.9 160.75 358.8 160.73 359.7 160.67 360.6 160.64 361.5 160.85 362.4 160.92 363.3 160.69 364.2 160.71 365.1 161 366 161 366.9 160.72 367.8 160.52 368.7 160.53 369.6 160.74 370.5 160.82 371.4 160.92 372.3 161.03 373.2 160.82 374.1 160.65 375 160.65 375.9 160.67 376.8 160.71 377.7 160.61 378.6 160.68 379.5 160.77 380.4 160.44 381.3 160.22 382.2 160.28 383.1 160.24 384 160.22 384.9 160.36 385.8 160.32 386.7 160.1 387.6 159.96 388.5 159.98 389.4 160.12 390.3 160.15 391.2 160.32 392.1 160.55 393 160.48 393.9 160.12 394.8 159.97 395.7 160.17 396.6 160.18 397.5 160.08 398.4 159.98 399 159.91"/>
<path class="ln" stroke="#cc00cc" d="M313.8 153 314.7 162.22 315.6 164.35 316.5 164.07 317.4 163.38 318.3 162.76 319.2 162.35 320.1 161.97 321 161.72 321.9 161.55 322.8 161.27 323.7 161.05 324.6 160.87 325.5 160.67 326.4 160.57 327.3 160.53 328.2 160.49 329.1 160.42 330 160.36 330.9 160.38 331.8 160.39 332.7 160.34 333.6 160.41 334.5 160.45 335.4 160.31 336.3 160.28 337.2 160.39 338.1 160.38 339 160.4 339.9 160.49 340.8 160.49 341.7 160.44 342.6 160.41 343.5 160.39 344.4 160.44 345.3 160.53 346.2 160.6 347.1 160.67 348 160.7 348.9 160.67 349.8 160.67 350.7 160.63 351.6 160.58 352.5 160.63 353.4 160.69 354.3 160.72 355.2 160.72 356.1 160.67 357 160.62 357.9 160.66 358.8 160.73 359.7 160.79 360.6 160.81 361.5 160.81 362.4 160.85 363.3 160.88 364.2 160.82 365.1 160.71 366 160.69 366.9 160.79 367.8 160.86 368.7 160.89 369.6 160.92 370.5 160.86 371.4 160.84 372.3 160.86 373.2 160.88 374.1 160.95 375 160.92 375.9 160.83 376.8 160.89 377.7 161.08 378.6 161.13 379.5 161.01 380.4 160.96 381.3 161.04 382.2 161.11 383.1 161.14 384 161.16 384.9 161.21 385.8 161.33 386.7 161.36 387.6 161.32 388.5 161.31 389.4 161.39 390.3 161.42 391.2 161.33 392.1 161.35 393 161.43 393.9 161.39 394.8 161.31 395.7 161.34 396.6 161.42 397.5 161.41 398.4 161.38 399.3 161.33 400.2 161.27 401.1 161.36 402 161.48 402.9 161.44 403.8 161.35 404.7 161.32 405.6 161.3 406.5 161.22 407.4 161.11 408.3 161.04 409.2 161.01 410.1 160.92 411 160.91 411.9 160.96 412.8 160.88 413.7 160.81 414.6 160.77 415.5 160.73 416.4 160.73 417.3 160.76 418.2 160.8 419.1 160.71 420 160.66 420.9 160.73 421.8 160.77 422.7 160.84 423.6 160.95 424.5 161.08 425.4 161.09 426.3 161.03 427.2 161.11 428.1 161.19 429 161.15 429.9 161.25 430.8 161.49 431.7 161.51 432.6 161.47 433.5 161.63 434.4 161.75 435.3 161.81 436.2 161.88 437.1 161.9 438 162.01 438.9 162.11 439.8 162.09 440.7 162.08 441.6 162.21 442.5 162.37 443.4 162.43 444.3 162.48 445.2 162.6 446.1 162.72 447 162.77 447.9 162.83 448.8 162.98 449.7 163.06 450.6 163.08 451.5 163.1 452.4 163.17 453.3 163.27 454.2 163.38 455.1 163.5 456 163.57 456.9 163.61 457.8 163.71 458.7 163.86 459.6 164 460.5 164.05 461.4 164.01 462.3 164 463.2 164.13 464.1 164.24 465 164.31 465.9 164.36 466.8 164.39 467.7 164.37 468.6 164.42 469.5 164.59 470.4 164.64 471.3 164.62 472.2 164.67 473.1 164.65 474 164.66 474.9 164.73 475.8 164.72 476.7 164.69 477.6 164.76 478.5 164.79 479.4 164.76 480.3 164.76 481.2 164.77 482.1 164.75 483 164.83 483.9 164.85 484.8 164.76 485.7 164.69 486.6 164.66 487.5 164.66 488.4 164.62 489.3 164.65 490.2 164.79 491.1 164.88 492 164.85 492.9 164.77 493.8 164.74 494.7 164.85 495.6 165 496.5 164.92 497.4 164.73 498.3 164.66 499.2 164.7 500.1 164.78 501 164.74 501.9 164.67 502.8 164.69 503.7 164.68 504.6 164.62 505.5 164.66 506.4 164.66 507.3 164.56 508.2 164.46 509.1 164.39 510 164.43 510.9 164.49 511.8 164.39 512.7 164.23 513.6 164.19 514.5 164.2 515.4 164.08 516.3 163.99 517.2 163.96 518.1 163.83 519 163.72 519.9 163.65 520.8 163.53 521.7 163.44 522 163.42"/>
<path class="ln" stroke="#00c0c0" d="M313.8 153 314.7 156.07 315.6 157.19 316.5 157.69 317.4 157.94 318.3 158.1 319.2 158.2 320.1 158.32 321 158.45 321.9 158.56 322.8 158.66 323.7 158.63 324.6 158.57 325.5 158.58 326.4 158.67 327.3 158.74 328.2 158.66 329.1 158.69 330 158.78 330.9 158.73 331.8 158.79 332.7 158.86 333.6 158.84 334.5 158.89 335.4 158.9 336.3 158.96 337.2 159.11 338.1 159.11 339 159.03 339.9 159.01 340.8 159.03 341.7 159.13 342.6 159.25 343.5 159.19 344.4 159.1 345.3 159.15 346.2 159.21 347.1 159.18 348 159.15 348.9 159.11 349.8 159.25 350.7 159.53 351.6 159.63 352.5 159.69 353.4 159.7 354.3 159.61 355.2 159.57 356.1 159.65 357 159.71 357.9 159.73 358.8 159.87 359.7 159.98 360.6 159.96 361.5 159.87 362.4 159.91 363.3 160.14 364.2 160.1 365.1 159.89 366 159.85 366.9 159.89 367.8 159.94 368.7 159.99 369.6 160.02 370.5 160.05 371.4 160.07 372.3 160.04 373.2 160.04 374.1 160.14 375 160.17 375.9 160.07 376.8 160.04 377.7 160.08 378.6 160.05 379.5 160.12 380.4 160.31 381.3 160.38 382.2 160.32 383.1 160.36 384 160.38 384.9 160.26 385.8 160.26 386.7 160.39 387.6 160.41 388.5 160.26 389.4 160.25 390.3 160.44 391.2 160.48 392.1 160.38 393 160.4 393.9 160.46 394.8 160.34 395.7 160.24 396.6 160.38 397.5 160.44 398.4 160.39 399.3 160.45 400.2 160.36 401.1 160.25 402 160.27 402.9 160.32 403.8 160.43 404.7 160.5 405.6 160.4 406.5 160.22 407.4 160.24 408.3 160.38 409.2 160.35 410.1 160.24 411 160.16 411.9 160.14 412.8 160.17 413.7 160.05 414.6 159.78 415.5 159.66 416.4 159.71 417.3 159.75 418.2 159.72 419.1 159.63 420 159.61 420.9 159.66 421.8 159.6 422.7 159.43 423.6 159.35 424.5 159.44 425.4 159.46 426.3 159.28 427.2 159.16 428.1 159.09 429 159.03 429.9 159.01 430.8 158.9 431.7 158.77 432.6 158.74 433.5 158.67 434.4 158.53 435.3 158.49 436.2 158.49 437.1 158.42 438 158.36 438.9 158.23 439.8 158.05 440.7 157.9 441.6 157.88 442.5 157.98 443.4 157.96 444.3 157.78 445.2 157.65 446.1 157.63 447 157.7 447.9 157.68 448.8 157.48 449.7 157.35 450.6 157.39 451.5 157.36 452.4 157.21 453.3 157.16 454.2 157.31 455.1 157.33 456 157.11 456.9 156.97 457.8 157 458.7 157.05 459.6 157.07 460.5 156.96 461.4 156.84 462.3 156.89 463.2 156.91 464.1 156.84 465 156.77 465.9 156.68 466.8 156.62 467.7 156.6 468.6 156.67 469.5 156.64 470.4 156.5 471.3 156.55 472.2 156.64 473.1 156.65 474 156.65 474.9 156.63 475.8 156.63 476.7 156.47 477.6 156.29 478.5 156.28 479.4 156.32 480.3 156.44 481.2 156.53 482.1 156.49 483 156.35 483.9 156.2 484.8 156.08 485.7 156.06 486.6 156.08 487.5 156.01 488.4 156.01 489.3 156.07 490.2 156.01 491.1 155.85 492 155.76 492.9 155.83 493.8 155.89 494.7 155.8 495.6 155.77 496.5 155.9 497.4 156 498.3 155.99 499.2 155.89 500.1 155.76 501 155.66 501.9 155.73 502.8 155.83 503.7 155.77 504.6 155.72 505.5 155.8 506.4 155.81 507.3 155.67 507.7 155.6"/>
<path class="ln" stroke="#0a8a0a" d="M313.8 153 314.7 154.66 315.6 155.3 316.5 155.65 317.4 155.97 318.3 156.28 319.2 156.5 320.1 156.64 321 156.65 321.9 156.59 322.8 156.61 323.7 156.71 324.6 156.72 325.5 156.81 326.4 156.94 327.3 156.96 328.2 157.14 329.1 157.28 330 157.14 330.9 157.06 331.8 157.08 332.7 157.06 333.6 157.1 334.5 157.12 335.4 157.09 336.3 157.16 337.2 157.16 338.1 157.15 339 157.12 339.9 156.97 340.8 156.92 341.7 157.01 342.6 157.02 343.5 156.97 344.4 156.93 345.3 156.88 346.2 156.79 347.1 156.74 348 156.77 348.9 156.83 349.8 156.8 350.7 156.77 351.6 156.9 352.5 156.93 353.4 156.74 354.3 156.58 355.2 156.58 356.1 156.59 357 156.58 357.9 156.56 358.8 156.48 359.7 156.43 360.6 156.46 361.5 156.47 362.4 156.38 363.3 156.25 364.2 156.17 365.1 156.12 366 156.21 366.9 156.37 367.8 156.31 368.7 156.22 369.6 156.26 370.5 156.32 371.4 156.3 372.3 156.29 373.2 156.41 374.1 156.47 375 156.53 375.9 156.65 376.8 156.63 377.7 156.56 378.6 156.63 379.5 156.78 380.4 156.85 381.3 156.85 382.2 156.87 383.1 156.95 384 157.01 384.9 157.11 385.8 157.27 386.7 157.32 387.6 157.36 388.5 157.52 389.4 157.57 390.3 157.52 391.2 157.61 392.1 157.7 393 157.77 393.9 157.91 394.8 157.95 395.7 157.98 396.6 158.08 397.5 158.12 398.4 158.13 399.3 158.17 400.2 158.32 401.1 158.46 402 158.51 402.9 158.63 403.8 158.77 404.7 158.79 405.6 158.87 406.5 159.02 407.4 158.97 408.3 158.91 409.2 159.05 410.1 159.21 411 159.27 411.9 159.35 412.8 159.49 413.7 159.61 414.6 159.71 415.5 159.84 416.4 160.07 417.3 160.26 418.2 160.26 419.1 160.19 420 160.18 420.9 160.23 421.8 160.29 422.7 160.36 423.6 160.48 424.5 160.7 425.4 160.89 426.3 160.99 427.2 161.02 428.1 160.98 429 161.05 429.9 161.14 430.8 161.17 431.7 161.22 432.6 161.32 433.5 161.41 434.4 161.5 435.3 161.66 436.2 161.78 437.1 161.8 438 161.75 438.9 161.73 439.8 161.8 440.7 161.96 441.6 162.03 442.5 161.98 443.4 161.94 444.3 162 445.2 162.05 446.1 162.04 447 162.04 447.9 162.1 448.8 162.08 449.7 161.97 450.6 161.96 451.5 161.93 452.4 161.84 453.3 161.86 454.2 161.95 455.1 161.96 456 161.85 456.9 161.8 457.8 161.79 458.7 161.73 459.6 161.7 460.5 161.76 461.4 161.76 462.3 161.74 463.2 161.72 464.1 161.6 465 161.51 465.9 161.48 466.8 161.46 467.7 161.43 468.6 161.38 469.5 161.32 470.4 161.3 471.3 161.32 472.2 161.34 473.1 161.38 474 161.42 474.9 161.37 475.8 161.25 476.7 161.14 477.6 161.07 478.5 161 479.4 160.91 480.3 160.79 481.2 160.69 482.1 160.61 483 160.47 483.9 160.35 484.8 160.35 485.7 160.35 486.6 160.2 487.5 159.99 488.4 159.8 489.3 159.7 490.2 159.61 491.1 159.49 492 159.29 492.9 159.13 493.8 159.07 494.7 158.91 495.6 158.71 496.5 158.59 497.4 158.51 498.3 158.45 499.2 158.35 500.1 158.19 501 158.08 501.9 158.01 502.8 157.89 503.7 157.76 504.6 157.66 505.5 157.52 506.4 157.38 507.3 157.33 508.2 157.24 509.1 157.11 510 157.03 510.9 156.88 511.8 156.73 512.7 156.68 513.6 156.62 514.5 156.45 515.4 156.3 516.3 156.22 517.2 156.13 518.1 155.99 519 155.77 519.9 155.55 520.8 155.34 521.7 155.13 522.6 154.94 523.5 154.67 524.4 154.39 525.3 154.16 526.2 154.13 527.1 155.04 527.5 155.58"/>
<path class="ln" stroke="#ff0a0a" d="M313.8 153 314.7 157.41 315.6 158.94 316.5 159.45 317.4 159.73 318.3 159.95 319.2 160.08 320.1 160.05 321 159.89 321.9 159.73 322.8 159.63 323.7 159.54 324.6 159.42 325.5 159.38 326.4 159.4 327.3 159.4 328.2 159.44 329.1 159.52 330 159.54 330.9 159.52 331.8 159.56 332.7 159.64 333.6 159.72 334.5 159.78 335.4 159.88 336.3 160.03 337.2 160.15 338.1 160.24 339 160.37 339.9 160.48 340.8 160.61 341.7 160.74 342.6 160.83 343.5 161 344.4 161.23 345.3 161.35 346.2 161.39 347.1 161.52 348 161.73 348.9 161.88 349.8 161.96 350.7 162.06 351.6 162.2 352.5 162.32 353.4 162.52 354.3 162.75 355.2 162.92 356.1 163.02 357 163.11 357.9 163.22 358.8 163.38 359.7 163.56 360.6 163.63 361.5 163.71 362.4 163.92 363.3 164.12 364.2 164.27 365.1 164.4 366 164.54 366.9 164.71 367.8 164.92 368.7 165.15 369.6 165.43 370.5 165.73 371.4 165.98 372.3 166.1 373.2 166.19 374.1 166.32 375 166.5 375.9 166.7 376.8 166.88 377.7 167.04 378.6 167.23 379.5 167.45 380.4 167.6 381.3 167.74 382.2 167.92 383.1 168.07 384 168.16 384.9 168.32 385.8 168.5 386.7 168.61 387.6 168.73 388.5 168.85 389.4 168.98 390.3 169.1 391.2 169.2 392.1 169.26 393 169.37 393.9 169.47 394.8 169.57 395.7 169.69 396.6 169.76 397.5 169.86 398.4 169.97 399.3 170.03 400.2 170.15 401.1 170.27 402 170.35 402.9 170.43 403.8 170.49 404.7 170.57 405.6 170.64 406.5 170.7 407.4 170.78 408.3 170.87 409.2 171.01 410.1 171.09 411 171.09 411.9 171.14 412.8 171.19 413.7 171.22 414.6 171.3 415.5 171.41 416.4 171.51 417.3 171.58 418.2 171.57 419.1 171.58 420 171.64 420.9 171.65 421.8 171.61 422.7 171.59 423.6 171.56 424.5 171.51 425.4 171.43 426.3 171.44 427.2 171.5 428.1 171.46 429 171.42 429.9 171.48 430.8 171.52 431.7 171.47 432.6 171.38 433.5 171.36 434.4 171.38 435.3 171.35 436.2 171.23 437.1 171.15 438 171.12 438.9 171.09 439.8 171.02 440.7 170.93 441.6 170.84 442.5 170.74 443.4 170.68 444.3 170.59 445.2 170.42 446.1 170.31 447 170.22 447.9 170.06 448.8 169.89 449.7 169.68 450.6 169.5 451.5 169.42 452.4 169.31 453.3 169.14 454.2 169 455.1 168.84 456 168.59 456.9 168.34 457.8 168.15 458.7 167.95 459.6 167.71 460.5 167.5 461.4 167.27 462.3 167.01 463.2 166.82 464.1 166.72 465 166.62 465.9 166.57 466.8 166.58 467.7 166.57 468.6 166.58 469.5 166.59 470.4 166.59 471.3 166.59 472.2 166.57 473.1 166.59 474 166.57 474.9 166.56 475.8 166.59 476.7 166.6 477.6 166.62 478.5 166.64 479.4 166.69 480.3 166.78 481.2 166.8 482.1 166.83 483 166.89 483.9 166.96 484.8 167.03 485.7 167.08 486.6 167.18 487.5 167.33 488.4 167.51 489.3 167.69 490.2 167.93 491.1 168.17 491.6 168.23"/>
<path class="ln" stroke="#0000ff" d="M313.8 153 314.7 154.76 315.6 155.11 316.5 155.28 317.4 155.44 318.3 155.4 319.2 155.07 320.1 154.64 321 154.27 321.9 154.14 322.8 154.08 323.7 153.86 324.6 153.72 325.5 153.68 326.4 153.65 327.3 153.69 328.2 153.56 329.1 153.37 330 153.39 330.9 153.46 331.8 153.42 332.7 153.31 333.6 153.23 334.5 153.25 335.4 153.32 336.3 153.39 337.2 153.4 338.1 153.32 339 153.22 339.9 153.19 340.8 153.18 341.7 153.14 342.6 153.1 343.5 153.09 344.4 153.13 345.3 153.14 346.2 153.18 347.1 153.2 348 153.15 348.9 153.15 349.8 153.23 350.7 153.24 351.6 153.21 352.5 153.15 353.4 153.06 354.3 153.14 355.2 153.24 356.1 153.18 357 153.12 357.9 153.22 358.8 153.32 359.7 153.28 360.6 153.21 361.5 153.32 362.4 153.47 363.3 153.52 364.2 153.49 365.1 153.44 366 153.43 366.9 153.42 367.8 153.38 368.7 153.37 369.6 153.46 370.5 153.55 371.4 153.49 372.3 153.43 373.2 153.49 374.1 153.54 375 153.57 375.9 153.64 376.8 153.72 377.7 153.75 378.6 153.73 379.5 153.68 380.4 153.72 381.3 153.76 382.2 153.73 383.1 153.77 384 153.85 384.9 153.92 385.8 153.92 386.7 153.94 387.6 154.08 388.5 154.13 389.4 154.12 390.3 154.19 391.2 154.19 392.1 154.14 393 154.08 393.9 154.11 394.8 154.32 395.7 154.49 396.6 154.53 397.5 154.6 398.4 154.61 399.3 154.55 400.2 154.67 401.1 154.8 402 154.82 402.9 154.87 403.8 154.84 404.7 154.76 405.6 154.81 406.5 155 407.4 155.15 408.3 155.2 409.2 155.25 410.1 155.31 411 155.29 411.9 155.3 412.8 155.45 413.7 155.67 414.6 155.79 415.5 155.74 416.4 155.69 417.3 155.65 418.2 155.67 419.1 155.86 420 156.07 420.9 156.12 421.8 156.12 422.7 156.17 423.6 156.28 424.5 156.4 425.4 156.44 426.3 156.46 427.2 156.52 428.1 156.62 429 156.7 429.9 156.73 430.8 156.7 431.7 156.72 432.6 156.84 433.5 156.94 434.4 156.98 435.3 156.99 436.2 157.07 437.1 157.19 438 157.23 438.9 157.26 439.8 157.28 440.7 157.34 441.6 157.43 442.5 157.46 443.4 157.53 444.3 157.62 445.2 157.66 446.1 157.73 447 157.89 447.9 158.01 448.8 157.99 449.7 157.92 450.6 157.99 451.5 158.11 452.4 158.04 453.3 158.07 454.2 158.26 455.1 158.33 456 158.34 456.9 158.39 457.8 158.46 458.7 158.59 459.6 158.68 460.5 158.74 461.4 158.84 462.3 158.8 463.2 158.76 464.1 158.91 465 159.05 465.9 159.09 466.8 159.12 467.7 159.15 468.6 159.18 469.5 159.24 470.4 159.28 471.3 159.23 472.2 159.22 473.1 159.3 474 159.36 474.9 159.36 475.8 159.35 476.7 159.37 477.6 159.32 478.5 159.29 479.4 159.4 480.3 159.46 481.2 159.36 482.1 159.27 483 159.29 483.9 159.27 484.8 159.26 485.7 159.34 486.6 159.43 487.5 159.41 488.4 159.34 489.3 159.3 490.2 159.23 491.1 159.22 492 159.32 492.9 159.36 493.8 159.36 494.7 159.44 495.6 159.43 496.5 159.31 497.4 159.29 498.3 159.24 499.2 159.19 500.1 159.3 501 159.36 501.9 159.3 502.8 159.23 503.7 159.25 504.6 159.27 505 159.2"/>
<path class="ln" stroke="#cc00cc" d="M313.8 153 314.7 153.38 315.6 153.74 316.5 153.91 317.4 153.93 318.3 153.92 319.2 153.93 320.1 154.07 321 154.31 321.9 154.44 322.8 154.41 323.7 154.33 324.6 154.22 325.5 154.18 326.4 154.23 327.3 154.16 328.2 154.14 329.1 154.34 330 154.47 330.9 154.43 331.8 154.56 332.7 154.71 333.6 154.64 334.5 154.48 335.4 154.34 336.3 154.27 337.2 154.29 338.1 154.43 339 154.57 339.9 154.58 340.8 154.5 341.7 154.4 342.6 154.35 343.5 154.45 344.4 154.54 345.3 154.52 346.2 154.47 347.1 154.42 348 154.38 348.9 154.3 349.8 154.19 350.7 154.22 351.6 154.28 352.5 154.22 353.4 154.08 354.3 154.01 355.2 154.01 356.1 153.95 357 153.92 357.9 153.99 358.8 153.95 359.7 153.78 360.6 153.74 361.5 153.77 362.4 153.78 363.3 153.86 364.2 153.81 365.1 153.62 366 153.54 366.9 153.62 367.8 153.55 368.7 153.38 369.6 153.37 370.5 153.5 371.4 153.47 372.3 153.33 373.2 153.38 374.1 153.58 375 153.69 375.9 153.59 376.8 153.46 377.7 153.45 378.6 153.47 379.5 153.47 380.4 153.43 381.3 153.52 382.2 153.58 383.1 153.48 384 153.53 384.9 153.56 385.8 153.41 386.7 153.32 387.6 153.37 388.5 153.49 389.4 153.56 390.3 153.49 391.2 153.41 392.1 153.4 393 153.47 393.9 153.54 394.8 153.57 395.7 153.67 396.6 153.67 397.5 153.57 398.4 153.64 399.3 153.63 400.2 153.38 401.1 153.17 402 153.28 402.9 153.38 403.8 153.37 404.7 153.45 405.6 153.46 406.5 153.42 407.4 153.4 408.3 153.42 409.2 153.43 410.1 153.37 411 153.39 411.9 153.48 412.8 153.51 413.7 153.56 414.6 153.76 415.5 153.74 416.4 153.45 417.3 153.35 418.2 153.47 419.1 153.61 420 153.69 420.9 153.74 421.8 153.74 422.7 153.64 423.6 153.54 424.5 153.58 425.4 153.68 426.3 153.88 427.2 154.09 428.1 154.12 429 154.2 429.9 154.23 430.8 154.11 431.7 154.12 432.6 154.3 433.5 154.47 434.4 154.59 435.3 154.69 436.2 154.68 437 154.67"/>
<path class="ln" stroke="#0a8a0a" d="M313.8 153 314.7 151.94 315.6 151.82 316.5 151.78 317.4 151.74 318.3 151.79 319.2 151.94 320.1 152.01 321 151.94 321.9 151.89 322.8 151.86 323.7 151.9 324.6 152.05 325.5 152.05 326.4 152 327.3 152.05 328.2 152.05 329.1 152.09 330 152.21 330.9 152.21 331.8 152.21 332.7 152.21 333.6 152.11 334.5 152.08 335.4 152.21 336.3 152.17 337.2 151.95 338.1 151.88 339 151.91 339.9 151.99 340.8 152.1 341.7 152.06 342.6 152.02 343.5 152.07 344.4 152.1 345.3 152.08 346.2 152.01 347.1 151.94 348 151.94 348.9 151.94 349.8 152 350.7 152.08 351.6 152.02 352.5 151.98 353.4 152.07 354.3 152.09 355.2 151.93 356.1 151.84 357 151.88 357.9 151.79 358.8 151.69 359.7 151.69 360.6 151.63 361.5 151.55 362.4 151.49 363.3 151.53 364.2 151.53 365.1 151.45 366 151.58 366.9 151.72 367.8 151.68 368.7 151.57 369.6 151.5 370.5 151.57 371.4 151.7 372.3 151.73 373.2 151.58 374.1 151.41 375 151.41 375.9 151.5 376.8 151.61 377.7 151.64 378.6 151.6 379.5 151.5 380.4 151.42 381.3 151.53 382.2 151.61 383.1 151.5 384 151.41 384.9 151.41 385.8 151.5 386.7 151.51 387.6 151.45 388.5 151.49 389.4 151.6 390.3 151.7 391.2 151.65 392.1 151.52 393 151.49 393.9 151.59 394.8 151.61 395.7 151.61 396.6 151.68 397.5 151.62 398.4 151.6 399.3 151.67 400.2 151.63 401.1 151.59 402 151.52 402.9 151.54 403.8 151.7 404.7 151.74 405.6 151.75 406.5 151.74 407.4 151.7 408.3 151.67 409.2 151.62 410.1 151.62 411 151.6 411.9 151.53 412.8 151.57 413.7 151.62 414.6 151.63 415.5 151.69 416.4 151.82 417.3 151.82 418.2 151.75 419.1 151.71 420 151.58 420.9 151.6 421.8 151.84 422.7 151.94 423.6 151.89 424.5 151.86 425.4 151.91 426.3 151.9 427.2 151.72 428.1 151.56 429 151.58 429.9 151.65 430.8 151.63 431.7 151.57 432.6 151.51 433.5 151.38 434.4 151.32 434.5 151.28"/>
<path class="ln" stroke="#0000ff" d="M313.8 153 314.7 152.6 315.6 152.94 316.5 153.77 317.4 154.45 318.3 154.67 319.2 154.29 320.1 153.56 321 152.95 321.9 152.51 322.8 151.99 323.7 151.51 324.6 151.26 325.5 151.2 326.4 151.13 327.3 151.09 328.2 151.08 329.1 151.19 330 151.3 330.9 151.24 331.8 151.12 332.7 151.04 333.6 151.02 334.5 151.03 335.4 150.95 336.3 150.95 337.2 151.02 338.1 150.96 339 151.01 339.9 151.13 340.8 151.02 341.7 150.9 342.6 150.9 343.5 151.01 344.4 151.19 345.3 151.3 346.2 151.24 347.1 151.13 348 151.12 348.9 151.15 349.8 151.14 350.7 151.08 351.6 151.05 352.5 151.06 353.4 151.05 354.3 151.01 355.2 150.98 356.1 151.08 357 151.28 357.9 151.26 358.8 151.22 359.7 151.24 360.6 151.17 361.5 151.17 362.4 151.25 363.3 151.37 364.2 151.43 365.1 151.38 366 151.34 366.9 151.4 367.8 151.52 368.7 151.62 369.6 151.69 370.5 151.67 371.4 151.61 372.3 151.56 373.2 151.63 374.1 151.77 375 151.87 375.9 151.97 376.8 152 377.7 151.97 378.6 152.05 379.5 152.22 380.4 152.33 381.3 152.32 382.2 152.3 383.1 152.34 384 152.48 384.9 152.63 385.8 152.63 386.7 152.61 387.6 152.65 388.5 152.71 389.4 152.82 390.3 152.88 391.2 152.98 392.1 153.09 393 153.13 393.9 153.19 394.8 153.31 395.7 153.33 396.6 153.26 397.5 153.25 398.4 153.41 399.3 153.66 400.2 153.8 401.1 153.82 402 153.84 402.9 153.93 403.8 154.14 404.7 154.26 405.6 154.22 406.5 154.34 407.4 154.51 408.3 154.47 409.2 154.46 410.1 154.6 411 154.71 411.9 154.77 412.8 154.88 413.7 154.97 414.6 155.01 415.5 155.09 416.4 155.17 417.3 155.3 418.2 155.4 419.1 155.37 420 155.33 420.9 155.31 421.8 155.41 422.7 155.53 423.6 155.56 424.5 155.64 425.4 155.79 426.3 155.89 427.2 155.96 428.1 156.05 429 156.16 429.9 156.24 430.8 156.2 431.7 156.15 432.6 156.24 433.5 156.37 434.4 156.43 435.3 156.47 436.2 156.43 437.1 156.45 438 156.64 438.9 156.69 439.8 156.64 440.7 156.6 441.6 156.55 442.5 156.62 443.4 156.68 444.3 156.68 445.2 156.7 446.1 156.71 447 156.7 447.9 156.7 448.8 156.74 449.7 156.82 450.6 156.87 451.5 156.83 452.4 156.77 453.3 156.78 454.2 156.88 455.1 156.93 456 156.85 456.9 156.81 457.8 156.84 458.7 156.88 459.6 156.89 460.5 156.88 461.4 156.92 462.3 157.02 463.2 157.09 464.1 157.07 465 157.06 465.9 156.92 466.8 156.73 467.7 156.8 468.6 156.95 469.5 156.91 470.4 156.79 471.3 156.77 472.2 156.93 473.1 157.05 474 157.03 474.9 157.02 475.8 157.01 476.7 157.04 477.6 157.02 478.5 156.91 479.4 156.87 480.3 156.92 481.2 156.92 482.1 156.86 483 156.86 483.9 156.95 484.8 156.98 485.7 156.9 486.6 156.89 487.5 156.97 488.4 157.03 489.3 156.94 490.2 156.85 491.1 156.91 492 156.89 492.9 156.77 493.8 156.72 494.7 156.84 495.6 156.87 496.5 156.8 497.4 156.82 498.3 156.76 499.2 156.62 500.1 156.64 501 156.71 501.9 156.8 502.8 156.86 503.7 156.77 504.6 156.7 505.5 156.72 506.4 156.8 507.3 156.86 508.2 156.94 509.1 156.89 510 156.64 510.9 156.56 511.8 156.7 512.7 156.77 513.6 156.79 514.5 156.84 515.4 156.8 516.3 156.73 517.2 156.75 518.1 156.73 519 156.72 519.9 156.78 520.8 156.86 521.7 156.86 522.6 156.74 523.5 156.74 524.4 156.87 525.3 156.91 526.2 156.89 527.1 156.85 528 156.77 528.9 156.81 529.8 156.94 530.7 156.99 531.6 157 531.8 157.07"/>
<path class="ln" stroke="#505050" d="M313.8 153 314.7 151.64 315.6 151.41 316.5 151.34 317.4 151.22 318.3 151.09 319.2 151.05 320.1 151.11 321 151.1 321.9 151.02 322.8 151 323.7 150.99 324.6 150.95 325.5 151.03 326.4 151.09 327.3 151 328.2 150.9 329.1 150.93 330 151.02 330.9 151.05 331.8 151.03 332.7 150.96 333.6 151.01 334.5 151.14 335.4 151.09 336.3 151.1 337.2 151.15 338.1 151.11 339 151.1 339.9 151.17 340.8 151.22 341.7 151.18 342.6 151.21 343.5 151.22 344.4 151.09 345.3 151.05 346.2 151.13 347.1 151.2 348 151.27 348.9 151.29 349.8 151.27 350.7 151.27 351.6 151.33 352.5 151.45 353.4 151.42 354.3 151.39 355.2 151.46 356.1 151.43 357 151.35 357.9 151.27 358.8 151.3 359.7 151.42 360.6 151.37 361.5 151.28 362.4 151.34 363.3 151.41 364.2 151.38 365.1 151.26 366 151.21 366.9 151.31 367.8 151.42 368.7 151.41 369.6 151.48 370.5 151.62 371.4 151.59 372.3 151.51 373.2 151.51 374.1 151.51 375 151.61 375.9 151.68 376.8 151.66 377.7 151.66 378.6 151.58 379.5 151.52 380.4 151.57 381.3 151.66 382.2 151.72 383.1 151.7 384 151.64 384.9 151.66 385.8 151.73 386.7 151.74 387.6 151.68 388.5 151.69 389.4 151.72 390.3 151.77 391.2 151.85 392.1 151.82 393 151.73 393.9 151.79 394.8 151.88 395.7 151.84 396.6 151.82 397.5 151.93 398.4 151.93 399.3 151.84 400.2 151.92 401.1 152.1 402 152.15 402.9 152.09 403.8 151.97 404.7 151.91 405.6 151.94 406.5 151.94 407.4 151.95 408.3 151.98 409.2 151.94 410.1 151.99 411 152.11 411.9 152.04 412.8 151.89 413.7 151.86 414.6 151.91 415.5 151.95 416.4 151.95 417.3 151.97 418.2 152.04 419.1 152.06 420 152.06 420.9 152.05 421.8 152.02 422.7 152.02 423.6 152.08 424.5 152.06 425.4 151.97 426.3 151.96 427.2 152.06 428.1 152.14 429 152.08 429.9 151.99 430.8 151.98 431.7 151.99 432.6 152.06 433.5 152.14 434.4 152.13 435.3 152.08 436.2 152.05 437.1 152.07 438 152.05 438.9 151.99 439.8 151.97 440.7 152.02 441.6 152.1 442.5 152.13 443.4 152.12 444.3 152.13 445.2 152.24 446.1 152.27 447 152.2 447.9 152.15 448.8 152.14 449.7 152.19 450.6 152.26 451.5 152.29 452.4 152.27 453.3 152.2 454.2 152.13 455.1 152.05 456 152.06 456.9 152.16 457.8 152.2 458.7 152.22 459.6 152.23 460.5 152.22 461.4 152.17 462.3 152.12 463.2 152.19 464.1 152.27 465 152.28 465.9 152.22 466.8 152.17 467.7 152.27 468.6 152.35 469.5 152.34 470.4 152.33 471.3 152.35 472.2 152.35 473.1 152.29 474 152.28 474.9 152.27 475.8 152.24 476.7 152.26 477.6 152.24 478.5 152.21 479.4 152.24 480.3 152.24 481.2 152.26 482.1 152.31 483 152.27 483.9 152.27 484.8 152.36 485.7 152.28 486.6 152.19 487.5 152.27 488.4 152.39 489.3 152.43 490.2 152.39 491.1 152.4 492 152.45 492.9 152.31 493.8 152.25 494.7 152.41 495.6 152.47 496.5 152.48 497.4 152.51 498.3 152.43 499.2 152.34 500.1 152.3 501 152.28 501.9 152.28 502.8 152.24 503.7 152.18 504.6 152.18 505.5 152.27 506 152.36"/>
<path class="ln" stroke="#7a2020" d="M313.8 153 314.7 148.38 315.6 147.82 316.5 147.8 317.4 147.74 318.3 147.65 319.2 147.65 320.1 147.72 321 147.7 321.9 147.64 322.8 147.59 323.7 147.57 324.6 147.62 325.5 147.59 326.4 147.54 327.3 147.51 328.2 147.51 329.1 147.55 330 147.57 330.9 147.62 331.8 147.72 332.7 147.74 333.6 147.7 334.5 147.81 335.4 147.86 336.3 147.78 337.2 147.81 338.1 147.84 339 147.84 339.9 147.87 340.8 147.85 341.7 147.89 342.6 147.92 343.5 147.88 344.4 147.9 345.3 147.97 346.2 148 347.1 148.03 348 148.11 348.9 148.21 349.8 148.26 350.7 148.3 351.6 148.37 352.5 148.47 353.4 148.56 354.3 148.58 355.2 148.6 356.1 148.6 357 148.62 357.9 148.72 358.8 148.81 359.7 148.9 360.6 149.02 361.5 149.07 362.4 149.11 363.3 149.19 364.2 149.3 365.1 149.44 366 149.47 366.9 149.45 367.8 149.51 368.7 149.6 369.6 149.64 370.5 149.61 371.4 149.64 372.3 149.79 373.2 149.91 374.1 149.96 375 150.02 375.9 150.07 376.8 150.1 377.7 150.1 378.6 150.11 379.5 150.17 380.4 150.21 381.3 150.22 382.2 150.2 383.1 150.15 384 150.17 384.9 150.27 385.8 150.31 386.7 150.4 387.6 150.51 388.5 150.49 389.4 150.52 390.3 150.56 391.2 150.53 392.1 150.56 393 150.56 393.9 150.56 394.8 150.67 395.7 150.81 396.6 150.89 397.5 150.79 398.4 150.68 399.3 150.67 400.2 150.62 401.1 150.56 402 150.58 402.9 150.7 403.8 150.83 404.7 150.9 405.6 150.87 406.5 150.8 407.4 150.84 408.3 150.84 409.2 150.76 410.1 150.76 411 150.75 411.9 150.65 412.8 150.66 413.7 150.8 414.6 150.84 415.5 150.91 416.4 151.02 417.3 151.02 418.2 151 419.1 150.97 420 150.92 420.9 150.86 421.8 150.83 422.7 150.88 423.6 150.94 424.5 150.97 425.4 150.92 426.3 150.9 427.2 150.9 428.1 150.85 429 150.88 429.9 150.95 430.8 150.96 431.7 150.97 432.6 151 433.5 151.09 434 151.24"/>
<path class="ln" stroke="#00c0c0" d="M313.8 153 314.7 147.81 315.6 146.75 316.5 146.69 317.4 147.01 318.3 147.4 319.2 147.61 320.1 147.78 321 147.94 321.9 148.01 322.8 147.97 323.7 147.83 324.6 147.58 325.5 147.26 326.4 146.94 327.3 146.66 328.2 146.34 329.1 145.98 330 145.6 330.9 145.2 331.8 144.83 332.7 144.54 333.6 144.25 334.5 143.9 335.4 143.57 336.3 143.3 337.2 143.03 338.1 142.8 339 142.61 339.9 142.4 340.8 142.2 341.7 142.06 342.6 141.95 343.5 141.83 344.4 141.73 345.3 141.6 346.2 141.51 347.1 141.45 348 141.35 348.9 141.26 349.8 141.18 350.7 141.15 351.6 141.15 352.5 141.09 353.4 141 354.3 140.96 355.2 140.95 356.1 140.95 357 140.92 357.9 140.85 358.8 140.81 359.7 140.82 360.6 140.78 361.5 140.73 362.4 140.73 363.3 140.75 364.2 140.74 365.1 140.72 366 140.72 366.9 140.74 367.8 140.81 368.7 140.91 369.6 141 370.5 141.1 371.4 141.16 372.3 141.22 373.2 141.36 374.1 141.52 375 141.63 375.9 141.7 376.8 141.8 377.7 141.95 378.6 142.14 379.5 142.34 380.4 142.58 381.3 142.8 382.2 142.95 383.1 143.11 384 143.28 384.9 143.46 385.8 143.62 386.7 143.75 387.6 143.88 388.5 143.98 389.4 144.06 390.3 144.19 391.2 144.3 392.1 144.38 393 144.52 393.9 144.67 394.8 144.73 395.7 144.8 396.6 144.97 397.5 145.12 398.4 145.26 399.3 145.38 400.2 145.41 401.1 145.52 402 145.64 402.9 145.72 403.8 145.85 404.7 145.95 405.6 146.06 406.5 146.22 407.4 146.31 408.3 146.37 409.2 146.46 410.1 146.6 411 146.75 411.9 146.83 412.8 146.92 413.7 147.07 414.6 147.23 415.5 147.34 416.4 147.46 417.3 147.6 418.2 147.73 419.1 147.91 420 148.1 420.9 148.22 421.8 148.29 422.7 148.49 423.6 148.73 424.5 148.93 425.4 149.13 426.3 149.33 427.2 149.52 428.1 149.69 429 149.87 429.9 150.12 430.8 150.42 431.7 150.7 432.6 150.95 433 151.04"/>
<path class="ln" stroke="#ff0a0a" d="M313.8 153 314.7 148.32 315.6 147.82 316.5 147.68 317.4 147.63 318.3 147.58 319.2 147.4 320.1 147.38 321 147.44 321.9 147.46 322.8 147.48 323.7 147.38 324.6 147.24 325.5 147.22 326.4 147.24 327.3 147.21 328.2 147.2 329.1 147.32 330 147.46 330.9 147.4 331.8 147.14 332.7 147.07 333.6 147.2 334.5 147.17 335.4 147.03 336.3 147.05 337.2 147.22 338.1 147.37 339 147.41 339.9 147.47 340.8 147.64 341.7 147.69 342.6 147.62 343.5 147.61 344.4 147.66 345.3 147.75 346.2 147.76 347.1 147.62 348 147.62 348.9 147.74 349.8 147.78 350.7 147.68 351.6 147.63 352.5 147.87 353.4 148.07 354.3 148.06 355.2 148.13 356.1 148.22 357 148.19 357.9 148.17 358.8 148.31 359.7 148.48 360.6 148.49 361.5 148.44 362.4 148.45 363.3 148.57 364.2 148.74 365.1 148.79 366 148.72 366.9 148.75 367.8 148.9 368.7 148.95 369.6 148.82 370.5 148.58 371.4 148.43 372.3 148.54 373.2 148.76 374.1 148.86 375 148.82 375.9 148.86 376.8 148.98 377.7 148.94 378.6 148.82 379.5 148.87 380.4 149 381.3 149.04 382.2 149.08 383.1 149.13 384 149.12 384.9 149.14 385.8 149.11 386.7 149.07 387.6 149.13 388.5 149.14 389.4 149.12 390.3 149.17 391.2 149.2 392.1 149.21 393 149.32 393.9 149.4 394.8 149.26 395.7 149.22 396.6 149.21 397.5 149.19 398.4 149.39 399.3 149.51 400.2 149.48 401.1 149.45 402 149.35 402.9 149.33 403.8 149.29 404.7 149.24 405.6 149.3 406.5 149.4 407.4 149.6 408.3 149.77 409.2 149.82 410.1 149.79 411 149.64 411.9 149.63 412.8 149.84 413.7 149.85 414.6 149.67 415.5 149.69 416.4 149.79 417.3 149.72 418.2 149.67 419.1 149.68 420 149.76 420.9 149.99 421.8 149.94 422.7 149.81 423.6 149.98 424.5 150.13 425.4 150.1 426.3 149.92 427.2 149.74 428.1 149.86 429 150.06 429.9 149.97 430.8 149.83 431.7 149.79 432.6 149.75 433.5 149.85 434.4 149.94 435.3 150.02 436.2 150.08 437.1 150.04 438 150.09 438.9 150.19 439.8 150.21 440.7 150.02 441.6 149.75 442.5 149.78 443.4 149.9 444.3 149.98 445.2 149.99 446.1 149.92 447 149.97 447.9 150.02 448.8 150.07 449.7 150.01 450.6 149.8 451.5 149.85 452.4 150.01 453.3 149.95 454.2 149.83 455.1 149.86 456 149.93 456.9 149.97 457.8 150.11 458.7 150.22 459.6 150.07 460.5 149.84 461.4 149.86 462.3 150.07 463.2 150.1 464.1 149.94 465 149.78 465.9 149.8 466.8 150 467 150.05"/>
<path class="ln" stroke="#ff0a0a" d="M313.8 153 314.7 145.69 315.6 144.93 316.5 144.74 317.4 144.5 318.3 144.36 319.2 144.31 320.1 144.31 321 144.27 321.9 144.18 322.8 144.27 323.7 144.39 324.6 144.39 325.5 144.3 326.4 144.26 327.3 144.3 328.2 144.27 329.1 144.39 330 144.7 330.9 144.88 331.8 144.77 332.7 144.63 333.6 144.72 334.5 144.9 335.4 144.99 336.3 145.07 337.2 145.23 338.1 145.28 339 145.26 339.9 145.39 340.8 145.48 341.7 145.43 342.6 145.54 343.5 145.76 344.4 145.94 345.3 146.14 346.2 146.24 347.1 146.31 348 146.47 348.9 146.58 349.8 146.81 350.7 146.96 351.6 146.74 352.5 146.68 353.4 146.89 354.3 146.94 355.2 147.03 356.1 147.21 357 147.12 357.9 147.11 358.8 147.37 359.7 147.43 360.6 147.41 361.5 147.55 362.4 147.6 363.3 147.63 364.2 147.69 365.1 147.68 366 147.73 366.9 147.83 367.8 147.93 368.7 147.93 369.6 147.82 370.5 147.93 371.4 148.16 372.3 148.21 373.2 148.2 374.1 148.2 375 148.07 375.9 147.92 376.8 147.97 377.7 148.08 378.6 148.03 379.5 148.02 380.4 148.18 381.3 148.24 382.2 148.13 383.1 148.05 384 148.11 384.9 148.24 385.8 148.3 386.7 148.33 387.6 148.45 388.5 148.45 389.4 148.23 390.3 148.15 391.2 148.24 392.1 148.36 393 148.38 393.9 148.32 394.8 148.34 395.7 148.46 396.6 148.5 397.5 148.47 398.4 148.55 399.3 148.69 400.2 148.69 401.1 148.67 402 148.84 402.9 148.94 403.8 148.86 404.7 148.84 405.6 148.87 406.5 148.86 407.4 148.94 408.3 149.05 409.2 149.02 410.1 149.02 411 149.1 411.9 149.23 412.8 149.38 413.7 149.35 414.6 149.23 415.5 149.3 416.4 149.45 417.3 149.6 418.2 149.65 419.1 149.56 420 149.44 420.9 149.46 421.8 149.68 422.7 149.83 423.6 149.76 424.5 149.73 425.4 149.83 426.3 149.9 427.2 149.93 428.1 149.96 429 149.95 429.9 149.91 430.8 149.95 431.7 150.29 432.6 150.47 433.5 150.34 434.4 150.41 435.3 150.49 436.2 150.51 437.1 150.54 438 150.49 438.9 150.52 439.8 150.54 440.7 150.45 441.6 150.38 442.5 150.48 443.4 150.59 444.3 150.46 445.2 150.36 446.1 150.5 447 150.54 447.9 150.48 448.8 150.41 449.7 150.33 450.6 150.35 451.5 150.27 452.4 150.12 453.3 150.11 454.2 150.23 455.1 150.21 456 149.81 456.9 149.53 457.8 149.6 458.7 149.6 459.6 149.52 460.5 149.5 461.4 149.48 462.3 149.33 463.2 149.11 464.1 148.95 465 148.8 465.9 148.68 466.8 148.59 467.7 148.41 468.6 148.19 469.5 148.04 470.4 147.84 471.3 147.8 472.2 147.78 473.1 147.51 474 147.31 474.9 147.09 475.8 146.9 476.7 146.76 477.6 146.53 478.5 146.42 479.4 146.36 480.3 146.3 481.2 146.21 482.1 146.01 483 145.86 483.9 145.69 484.8 145.49 485.7 145.48 486.6 145.39 487.5 145.13 488.4 144.99 489.3 144.96 490.2 144.86 491.1 144.61 492 144.34 492.9 144.12 493.8 143.84 494.7 143.71 495.6 143.8 496.5 143.73 497.4 143.41 498.3 143.12 499.2 143 500.1 142.82 501 142.5 501.9 142.17 502.8 141.89 503.7 141.83 504.6 141.84 505.5 141.67 506.4 141.43 507.3 141.13 508.2 140.76 509.1 140.46 510 140.3 510.9 140.17 511.8 140.04 512.7 139.85 513.6 139.62 514.5 139.45 515.4 139.26 516.3 139.16 517.2 139.18 518.1 139.14 519 139.03 519.9 138.98 520.8 138.99 521.7 139.01 522.6 139.08 523.5 139.03 524.4 139.04 525.3 139.12 526.2 139.07 527.1 139.05 528 139.16 528.9 139.21 529.8 139.29 530.7 139.44 531.6 139.55 532 139.71"/>
<path class="ln" stroke="#505050" d="M313.8 153 314.7 146.93 315.6 146.21 316.5 145.86 317.4 145.64 318.3 145.58 319.2 145.62 320.1 145.56 321 145.52 321.9 145.48 322.8 145.4 323.7 145.36 324.6 145.28 325.5 145.26 326.4 145.21 327.3 145.17 328.2 145.21 329.1 145.14 330 145.11 330.9 145.16 331.8 145.12 332.7 145.11 333.6 145.09 334.5 145.05 335.4 145.03 336.3 145.04 337.2 145.08 338.1 145.07 339 145.06 339.9 145.09 340.8 145.09 341.7 145.06 342.6 144.97 343.5 144.99 344.4 145.09 345.3 145.06 346.2 145.06 347.1 145.04 348 144.95 348.9 144.89 349.8 144.9 350.7 144.92 351.6 144.88 352.5 144.85 353.4 144.82 354.3 144.77 355.2 144.72 356.1 144.71 357 144.79 357.9 144.82 358.8 144.75 359.7 144.64 360.6 144.59 361.5 144.62 362.4 144.65 363.3 144.61 364.2 144.58 365.1 144.61 366 144.62 366.9 144.62 367.8 144.6 368.7 144.58 369.6 144.61 370.5 144.54 371.4 144.51 372.3 144.55 373.2 144.51 374.1 144.47 375 144.5 375.9 144.58 376.8 144.61 377.7 144.58 378.6 144.48 379.5 144.46 380.4 144.58 381.3 144.6 382.2 144.51 383.1 144.47 384 144.4 384.9 144.33 385.8 144.33 386.7 144.35 387.6 144.39 388.5 144.44 389.4 144.51 390.3 144.56 391.2 144.5 392.1 144.4 393 144.4 393.9 144.39 394.8 144.23 395.7 144.16 396.6 144.28 397.5 144.37 398.4 144.32 399.3 144.37 400.2 144.47 401.1 144.37 402 144.28 402.9 144.34 403.8 144.4 404.7 144.39 405.6 144.35 406.5 144.37 407.4 144.44 408.3 144.4 409.2 144.36 410.1 144.41 411 144.48 411.9 144.52 412.8 144.47 413.7 144.36 414.6 144.33 415.5 144.32 416.4 144.44 417.3 144.56 418.2 144.5 419.1 144.39 420 144.35 420.9 144.37 421.8 144.44 422.7 144.47 423.6 144.51 424.5 144.49 425.4 144.39 426.3 144.35 427.2 144.36 428.1 144.42 429 144.41 429.9 144.34 430.8 144.34 431.7 144.36 432.6 144.35 433.5 144.34 434.4 144.42 435.3 144.45 436.2 144.4 437.1 144.42 438 144.51 438.9 144.53 439.8 144.48 440.7 144.38 441.6 144.28 442.5 144.29 443.4 144.36 444.3 144.34 445.2 144.31 446.1 144.4 447 144.51 447.9 144.45 448.8 144.32 449.7 144.32 450.6 144.37 451.5 144.4 452.4 144.39 453.3 144.39 454.2 144.38 455.1 144.31 456 144.22 456.9 144.25 457.8 144.33 458.7 144.33 459.6 144.34 460.5 144.4 461.4 144.42 462.3 144.39 463.2 144.36 464.1 144.41 465 144.43 465.9 144.46 466.8 144.51 467.7 144.44 468.6 144.36 469.5 144.36 470.4 144.37 471.3 144.35 472.2 144.34 473.1 144.39 474 144.38 474.9 144.31 475.8 144.31 476.7 144.33 477.6 144.32 478.5 144.32 479.4 144.35 480.3 144.31 481.2 144.22 482.1 144.2 483 144.24 483.9 144.28 484.8 144.29 485.7 144.26 486.6 144.18 487.5 144.14 488.4 144.22 489.3 144.26 490.2 144.19 491.1 144.16 492 144.09 492.9 143.95 493.8 143.93 494.7 143.97 495.6 143.96 496.5 143.97 497.4 143.91 498.3 143.79 499.2 143.72 500.1 143.64 501 143.5 501.9 143.53 502.8 143.63 503.7 143.59 504.6 143.5 505.5 143.49 506.4 143.48 507.3 143.48 508.2 143.48 509.1 143.35 510 143.21 510.9 143.28 511.8 143.35 512.7 143.3 513.6 143.18 514.5 143.1 515.4 143.07 516.3 142.96 517.2 142.82 518.1 142.7 519 142.57 519.9 142.45 520.8 142.33 521.7 142.34 522.6 142.36 523.5 142.2 524.4 142.08 525.3 142.07 526.2 142.01 527.1 141.89 528 141.83 528.9 141.82 529.8 141.76 530.7 141.74 531.5 141.83"/>
<text class="t" x="309.6" y="179.98" text-anchor="end">−1</text>
<text class="t" x="309.6" y="156.15" text-anchor="end">0</text>
<text class="t" x="309.6" y="132.32" text-anchor="end">1</text>
<text class="t" x="313.4" y="200.8" text-anchor="middle">0</text>
<text class="t" x="365.25" y="200.8" text-anchor="middle">100</text>
<text class="t" x="417.1" y="200.8" text-anchor="middle">200</text>
<text class="t" x="468.95" y="200.8" text-anchor="middle">300</text>
<text class="t" x="520.8" y="200.8" text-anchor="middle">400</text>
<text class="b" x="430" y="9.7" text-anchor="middle" textLength="86.8" lengthAdjust="spacingAndGlyphs">GPS BLOCK IIIA</text>
<text class="b" x="429.2" y="112" text-anchor="middle" textLength="80.4" lengthAdjust="spacingAndGlyphs">GPS BLOCK IIF</text>
<text class="t" transform="translate(292 101.5) rotate(-90)" text-anchor="middle" textLength="157" lengthAdjust="spacingAndGlyphs">Relative change of L1−L5 bias [cycles]</text>
<text class="t" x="430" y="217.7" text-anchor="middle" textLength="110" lengthAdjust="spacingAndGlyphs">time since start of arc [min]</text>
<text class="t" style="font-size:10.5px" x="416.8" y="239.6" text-anchor="middle">(<tspan font-weight="bold">b</tspan>)</text>
</svg>
</body></html>
